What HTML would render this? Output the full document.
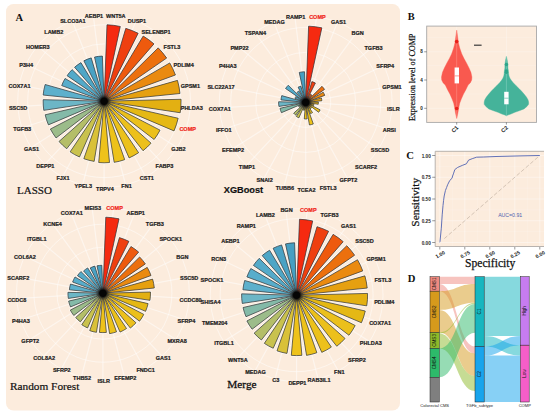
<!DOCTYPE html><html><head><meta charset="utf-8"><style>html,body{margin:0;padding:0;background:#fff;overflow:hidden}svg{display:block}</style></head><body><svg width="550" height="414" viewBox="0 0 550 414"><defs><radialGradient id="cg"><stop offset="0" stop-color="#000" stop-opacity="1"/><stop offset="0.45" stop-color="#000" stop-opacity="0.85"/><stop offset="0.7" stop-color="#111" stop-opacity="0.35"/><stop offset="1" stop-color="#222" stop-opacity="0"/></radialGradient></defs><rect width="550" height="414" fill="#ffffff"/><rect x="6" y="4" width="394" height="406.5" rx="7.5" ry="7.5" fill="#FCECDD"/><circle cx="104.1" cy="101.2" r="19.1" fill="none" stroke="#ffffff" stroke-width="0.9" opacity="0.55"/><circle cx="104.1" cy="101.2" r="38.2" fill="none" stroke="#ffffff" stroke-width="0.9" opacity="0.55"/><circle cx="104.1" cy="101.2" r="57.3" fill="none" stroke="#ffffff" stroke-width="0.9" opacity="0.55"/><circle cx="104.1" cy="101.2" r="76.4" fill="none" stroke="#ffffff" stroke-width="0.9" opacity="0.55"/><circle cx="104.1" cy="101.2" r="86.4" fill="none" stroke="#ffffff" stroke-width="0.9" opacity="0.55"/><line x1="104.1" y1="101.2" x2="114.88" y2="15.88" stroke="#ffffff" stroke-width="1.2" opacity="0.5"/><line x1="104.1" y1="101.2" x2="135.76" y2="21.24" stroke="#ffffff" stroke-width="1.2" opacity="0.5"/><line x1="104.1" y1="101.2" x2="154.65" y2="31.62" stroke="#ffffff" stroke-width="1.2" opacity="0.5"/><line x1="104.1" y1="101.2" x2="170.36" y2="46.38" stroke="#ffffff" stroke-width="1.2" opacity="0.5"/><line x1="104.1" y1="101.2" x2="181.92" y2="64.58" stroke="#ffffff" stroke-width="1.2" opacity="0.5"/><line x1="104.1" y1="101.2" x2="188.58" y2="85.09" stroke="#ffffff" stroke-width="1.2" opacity="0.5"/><line x1="104.1" y1="101.2" x2="189.93" y2="106.60" stroke="#ffffff" stroke-width="1.2" opacity="0.5"/><line x1="104.1" y1="101.2" x2="185.89" y2="127.78" stroke="#ffffff" stroke-width="1.2" opacity="0.5"/><line x1="104.1" y1="101.2" x2="176.71" y2="147.28" stroke="#ffffff" stroke-width="1.2" opacity="0.5"/><line x1="104.1" y1="101.2" x2="162.97" y2="163.89" stroke="#ffffff" stroke-width="1.2" opacity="0.5"/><line x1="104.1" y1="101.2" x2="145.53" y2="176.56" stroke="#ffffff" stroke-width="1.2" opacity="0.5"/><line x1="104.1" y1="101.2" x2="125.49" y2="184.50" stroke="#ffffff" stroke-width="1.2" opacity="0.5"/><line x1="104.1" y1="101.2" x2="104.10" y2="187.20" stroke="#ffffff" stroke-width="1.2" opacity="0.5"/><line x1="104.1" y1="101.2" x2="82.71" y2="184.50" stroke="#ffffff" stroke-width="1.2" opacity="0.5"/><line x1="104.1" y1="101.2" x2="62.67" y2="176.56" stroke="#ffffff" stroke-width="1.2" opacity="0.5"/><line x1="104.1" y1="101.2" x2="45.23" y2="163.89" stroke="#ffffff" stroke-width="1.2" opacity="0.5"/><line x1="104.1" y1="101.2" x2="31.49" y2="147.28" stroke="#ffffff" stroke-width="1.2" opacity="0.5"/><line x1="104.1" y1="101.2" x2="22.31" y2="127.78" stroke="#ffffff" stroke-width="1.2" opacity="0.5"/><line x1="104.1" y1="101.2" x2="18.27" y2="106.60" stroke="#ffffff" stroke-width="1.2" opacity="0.5"/><line x1="104.1" y1="101.2" x2="19.62" y2="85.09" stroke="#ffffff" stroke-width="1.2" opacity="0.5"/><line x1="104.1" y1="101.2" x2="26.28" y2="64.58" stroke="#ffffff" stroke-width="1.2" opacity="0.5"/><line x1="104.1" y1="101.2" x2="37.84" y2="46.38" stroke="#ffffff" stroke-width="1.2" opacity="0.5"/><line x1="104.1" y1="101.2" x2="53.55" y2="31.62" stroke="#ffffff" stroke-width="1.2" opacity="0.5"/><line x1="104.1" y1="101.2" x2="72.44" y2="21.24" stroke="#ffffff" stroke-width="1.2" opacity="0.5"/><line x1="104.1" y1="101.2" x2="93.32" y2="15.88" stroke="#ffffff" stroke-width="1.2" opacity="0.5"/><path d="M104.1,101.2 L106.98,24.75 A76.5,76.5 0 0 1 120.32,26.44 Z" fill="#fff" stroke="#fffaf5" stroke-width="2.2" stroke-linejoin="round"/><path d="M104.1,101.2 L125.76,28.35 A76,76 0 0 1 138.18,33.27 Z" fill="#fff" stroke="#fffaf5" stroke-width="2.2" stroke-linejoin="round"/><path d="M104.1,101.2 L143.20,36.03 A76,76 0 0 1 154.00,43.88 Z" fill="#fff" stroke="#fffaf5" stroke-width="2.2" stroke-linejoin="round"/><path d="M104.1,101.2 L158.18,47.80 A76,76 0 0 1 166.69,58.09 Z" fill="#fff" stroke="#fffaf5" stroke-width="2.2" stroke-linejoin="round"/><path d="M104.1,101.2 L169.76,62.92 A76,76 0 0 1 175.44,75.01 Z" fill="#fff" stroke="#fffaf5" stroke-width="2.2" stroke-linejoin="round"/><path d="M104.1,101.2 L177.50,80.37 A76.3,76.3 0 0 1 180.01,93.54 Z" fill="#fff" stroke="#fffaf5" stroke-width="2.2" stroke-linejoin="round"/><path d="M104.1,101.2 L181.08,99.26 A77,77 0 0 1 180.23,112.77 Z" fill="#fff" stroke="#fffaf5" stroke-width="2.2" stroke-linejoin="round"/><path d="M104.1,101.2 L178.16,118.24 A76,76 0 0 1 174.04,130.94 Z" fill="#fff" stroke="#fffaf5" stroke-width="2.2" stroke-linejoin="round"/><path d="M104.1,101.2 L160.05,130.15 A63,63 0 0 1 154.12,139.50 Z" fill="#fff" stroke="#fffaf5" stroke-width="2.2" stroke-linejoin="round"/><path d="M104.1,101.2 L151.09,143.16 A63,63 0 0 1 143.03,150.74 Z" fill="#fff" stroke="#fffaf5" stroke-width="2.2" stroke-linejoin="round"/><path d="M104.1,101.2 L138.63,152.70 A62,62 0 0 1 129.08,157.94 Z" fill="#fff" stroke="#fffaf5" stroke-width="2.2" stroke-linejoin="round"/><path d="M104.1,101.2 L124.73,159.67 A62,62 0 0 1 114.18,162.37 Z" fill="#fff" stroke="#fffaf5" stroke-width="2.2" stroke-linejoin="round"/><path d="M104.1,101.2 L109.51,162.56 A61.6,61.6 0 0 1 98.69,162.56 Z" fill="#fff" stroke="#fffaf5" stroke-width="2.2" stroke-linejoin="round"/><path d="M104.1,101.2 L94.18,161.39 A61,61 0 0 1 83.80,158.72 Z" fill="#fff" stroke="#fffaf5" stroke-width="2.2" stroke-linejoin="round"/><path d="M104.1,101.2 L79.52,157.03 A61,61 0 0 1 70.13,151.87 Z" fill="#fff" stroke="#fffaf5" stroke-width="2.2" stroke-linejoin="round"/><path d="M104.1,101.2 L66.72,148.77 A60.5,60.5 0 0 1 58.97,141.49 Z" fill="#fff" stroke="#fffaf5" stroke-width="2.2" stroke-linejoin="round"/><path d="M104.1,101.2 L56.06,137.98 A60.5,60.5 0 0 1 50.37,129.00 Z" fill="#fff" stroke="#fffaf5" stroke-width="2.2" stroke-linejoin="round"/><path d="M104.1,101.2 L48.43,124.88 A60.5,60.5 0 0 1 45.14,114.77 Z" fill="#fff" stroke="#fffaf5" stroke-width="2.2" stroke-linejoin="round"/><path d="M104.1,101.2 L43.79,110.36 A61,61 0 0 1 43.12,99.67 Z" fill="#fff" stroke="#fffaf5" stroke-width="2.2" stroke-linejoin="round"/><path d="M104.1,101.2 L43.11,95.05 A61.3,61.3 0 0 1 45.13,84.47 Z" fill="#fff" stroke="#fffaf5" stroke-width="2.2" stroke-linejoin="round"/><path d="M104.1,101.2 L61.67,85.62 A45.2,45.2 0 0 1 65.05,78.44 Z" fill="#fff" stroke="#fffaf5" stroke-width="2.2" stroke-linejoin="round"/><path d="M104.1,101.2 L67.04,75.67 A45,45 0 0 1 72.08,69.58 Z" fill="#fff" stroke="#fffaf5" stroke-width="2.2" stroke-linejoin="round"/><path d="M104.1,101.2 L74.55,67.26 A45,45 0 0 1 80.95,62.61 Z" fill="#fff" stroke="#fffaf5" stroke-width="2.2" stroke-linejoin="round"/><path d="M104.1,101.2 L83.83,60.80 A45.2,45.2 0 0 1 91.22,57.87 Z" fill="#fff" stroke="#fffaf5" stroke-width="2.2" stroke-linejoin="round"/><path d="M104.1,101.2 L94.52,57.03 A45.2,45.2 0 0 1 102.40,56.03 Z" fill="#fff" stroke="#fffaf5" stroke-width="2.2" stroke-linejoin="round"/><path d="M104.1,101.2 L106.98,24.75 A76.5,76.5 0 0 1 120.32,26.44 Z" fill="#f52a10" stroke="#2e2e2e" stroke-width="0.7" stroke-linejoin="round"/><path d="M104.1,101.2 L125.76,28.35 A76,76 0 0 1 138.18,33.27 Z" fill="#ef4010" stroke="#2e2e2e" stroke-width="0.7" stroke-linejoin="round"/><path d="M104.1,101.2 L143.20,36.03 A76,76 0 0 1 154.00,43.88 Z" fill="#ee5a0e" stroke="#2e2e2e" stroke-width="0.7" stroke-linejoin="round"/><path d="M104.1,101.2 L158.18,47.80 A76,76 0 0 1 166.69,58.09 Z" fill="#ec700e" stroke="#2e2e2e" stroke-width="0.7" stroke-linejoin="round"/><path d="M104.1,101.2 L169.76,62.92 A76,76 0 0 1 175.44,75.01 Z" fill="#ea8a10" stroke="#2e2e2e" stroke-width="0.7" stroke-linejoin="round"/><path d="M104.1,101.2 L177.50,80.37 A76.3,76.3 0 0 1 180.01,93.54 Z" fill="#e6a010" stroke="#2e2e2e" stroke-width="0.7" stroke-linejoin="round"/><path d="M104.1,101.2 L181.08,99.26 A77,77 0 0 1 180.23,112.77 Z" fill="#e3b012" stroke="#2e2e2e" stroke-width="0.7" stroke-linejoin="round"/><path d="M104.1,101.2 L178.16,118.24 A76,76 0 0 1 174.04,130.94 Z" fill="#e5b814" stroke="#2e2e2e" stroke-width="0.7" stroke-linejoin="round"/><path d="M104.1,101.2 L160.05,130.15 A63,63 0 0 1 154.12,139.50 Z" fill="#ebc01c" stroke="#2e2e2e" stroke-width="0.7" stroke-linejoin="round"/><path d="M104.1,101.2 L151.09,143.16 A63,63 0 0 1 143.03,150.74 Z" fill="#ecc01c" stroke="#2e2e2e" stroke-width="0.7" stroke-linejoin="round"/><path d="M104.1,101.2 L138.63,152.70 A62,62 0 0 1 129.08,157.94 Z" fill="#ecc11b" stroke="#2e2e2e" stroke-width="0.7" stroke-linejoin="round"/><path d="M104.1,101.2 L124.73,159.67 A62,62 0 0 1 114.18,162.37 Z" fill="#edc21a" stroke="#2e2e2e" stroke-width="0.7" stroke-linejoin="round"/><path d="M104.1,101.2 L109.51,162.56 A61.6,61.6 0 0 1 98.69,162.56 Z" fill="#eec21a" stroke="#2e2e2e" stroke-width="0.7" stroke-linejoin="round"/><path d="M104.1,101.2 L94.18,161.39 A61,61 0 0 1 83.80,158.72 Z" fill="#d9c138" stroke="#2e2e2e" stroke-width="0.7" stroke-linejoin="round"/><path d="M104.1,101.2 L79.52,157.03 A61,61 0 0 1 70.13,151.87 Z" fill="#c9c24e" stroke="#2e2e2e" stroke-width="0.7" stroke-linejoin="round"/><path d="M104.1,101.2 L66.72,148.77 A60.5,60.5 0 0 1 58.97,141.49 Z" fill="#b4be68" stroke="#2e2e2e" stroke-width="0.7" stroke-linejoin="round"/><path d="M104.1,101.2 L56.06,137.98 A60.5,60.5 0 0 1 50.37,129.00 Z" fill="#9cbc8a" stroke="#2e2e2e" stroke-width="0.7" stroke-linejoin="round"/><path d="M104.1,101.2 L48.43,124.88 A60.5,60.5 0 0 1 45.14,114.77 Z" fill="#84baa8" stroke="#2e2e2e" stroke-width="0.7" stroke-linejoin="round"/><path d="M104.1,101.2 L43.79,110.36 A61,61 0 0 1 43.12,99.67 Z" fill="#6cb6c6" stroke="#2e2e2e" stroke-width="0.7" stroke-linejoin="round"/><path d="M104.1,101.2 L43.11,95.05 A61.3,61.3 0 0 1 45.13,84.47 Z" fill="#5db0cc" stroke="#2e2e2e" stroke-width="0.7" stroke-linejoin="round"/><path d="M104.1,101.2 L61.67,85.62 A45.2,45.2 0 0 1 65.05,78.44 Z" fill="#58adcb" stroke="#2e2e2e" stroke-width="0.7" stroke-linejoin="round"/><path d="M104.1,101.2 L67.04,75.67 A45,45 0 0 1 72.08,69.58 Z" fill="#54aac9" stroke="#2e2e2e" stroke-width="0.7" stroke-linejoin="round"/><path d="M104.1,101.2 L74.55,67.26 A45,45 0 0 1 80.95,62.61 Z" fill="#4fa6c6" stroke="#2e2e2e" stroke-width="0.7" stroke-linejoin="round"/><path d="M104.1,101.2 L83.83,60.80 A45.2,45.2 0 0 1 91.22,57.87 Z" fill="#4aa2c4" stroke="#2e2e2e" stroke-width="0.7" stroke-linejoin="round"/><path d="M104.1,101.2 L94.52,57.03 A45.2,45.2 0 0 1 102.40,56.03 Z" fill="#469fc2" stroke="#2e2e2e" stroke-width="0.7" stroke-linejoin="round"/><circle cx="104.1" cy="101.2" r="7.5" fill="url(#cg)"/><circle cx="104.1" cy="101.2" r="3.2" fill="#050505"/><text transform="translate(115.80,17.79) scale(0.92,1)" text-anchor="middle" font-size="6.0" fill="#1c1c1c" stroke="#1c1c1c" stroke-width="0.22" font-family="Liberation Sans, sans-serif" font-weight="bold">WNT5A</text><text transform="translate(136.93,23.21) scale(0.92,1)" text-anchor="middle" font-size="6.0" fill="#1c1c1c" stroke="#1c1c1c" stroke-width="0.22" font-family="Liberation Sans, sans-serif" font-weight="bold">DUSP1</text><text transform="translate(156.04,33.72) scale(0.92,1)" text-anchor="middle" font-size="6.0" fill="#1c1c1c" stroke="#1c1c1c" stroke-width="0.22" font-family="Liberation Sans, sans-serif" font-weight="bold">SELENBP1</text><text transform="translate(171.93,48.64) scale(0.92,1)" text-anchor="middle" font-size="6.0" fill="#1c1c1c" stroke="#1c1c1c" stroke-width="0.22" font-family="Liberation Sans, sans-serif" font-weight="bold">FSTL3</text><text transform="translate(183.62,67.06) scale(0.92,1)" text-anchor="middle" font-size="6.0" fill="#1c1c1c" stroke="#1c1c1c" stroke-width="0.22" font-family="Liberation Sans, sans-serif" font-weight="bold">PDLIM4</text><text transform="translate(190.36,87.80) scale(0.92,1)" text-anchor="middle" font-size="6.0" fill="#1c1c1c" stroke="#1c1c1c" stroke-width="0.22" font-family="Liberation Sans, sans-serif" font-weight="bold">GPSM1</text><text transform="translate(191.73,109.56) scale(0.92,1)" text-anchor="middle" font-size="6.0" fill="#1c1c1c" stroke="#1c1c1c" stroke-width="0.22" font-family="Liberation Sans, sans-serif" font-weight="bold">PHLDA3</text><text transform="translate(187.64,130.98) scale(0.92,1)" text-anchor="middle" font-size="6.0" fill="#F02418" stroke="#F02418" stroke-width="0.22" font-family="Liberation Sans, sans-serif" font-weight="bold">COMP</text><text transform="translate(178.36,150.72) scale(0.92,1)" text-anchor="middle" font-size="6.0" fill="#1c1c1c" stroke="#1c1c1c" stroke-width="0.22" font-family="Liberation Sans, sans-serif" font-weight="bold">GJB2</text><text transform="translate(164.46,167.52) scale(0.92,1)" text-anchor="middle" font-size="6.0" fill="#1c1c1c" stroke="#1c1c1c" stroke-width="0.22" font-family="Liberation Sans, sans-serif" font-weight="bold">FABP3</text><text transform="translate(146.81,180.34) scale(0.92,1)" text-anchor="middle" font-size="6.0" fill="#1c1c1c" stroke="#1c1c1c" stroke-width="0.22" font-family="Liberation Sans, sans-serif" font-weight="bold">CST1</text><text transform="translate(126.54,188.37) scale(0.92,1)" text-anchor="middle" font-size="6.0" fill="#1c1c1c" stroke="#1c1c1c" stroke-width="0.22" font-family="Liberation Sans, sans-serif" font-weight="bold">FN1</text><text transform="translate(104.90,191.10) scale(0.92,1)" text-anchor="middle" font-size="6.0" fill="#1c1c1c" stroke="#1c1c1c" stroke-width="0.22" font-family="Liberation Sans, sans-serif" font-weight="bold">TRPV4</text><text transform="translate(83.26,188.37) scale(0.92,1)" text-anchor="middle" font-size="6.0" fill="#1c1c1c" stroke="#1c1c1c" stroke-width="0.22" font-family="Liberation Sans, sans-serif" font-weight="bold">YPEL3</text><text transform="translate(62.99,180.34) scale(0.92,1)" text-anchor="middle" font-size="6.0" fill="#1c1c1c" stroke="#1c1c1c" stroke-width="0.22" font-family="Liberation Sans, sans-serif" font-weight="bold">FJX1</text><text transform="translate(45.34,167.52) scale(0.92,1)" text-anchor="middle" font-size="6.0" fill="#1c1c1c" stroke="#1c1c1c" stroke-width="0.22" font-family="Liberation Sans, sans-serif" font-weight="bold">DEPP1</text><text transform="translate(31.44,150.72) scale(0.92,1)" text-anchor="middle" font-size="6.0" fill="#1c1c1c" stroke="#1c1c1c" stroke-width="0.22" font-family="Liberation Sans, sans-serif" font-weight="bold">GAS1</text><text transform="translate(22.16,130.98) scale(0.92,1)" text-anchor="middle" font-size="6.0" fill="#1c1c1c" stroke="#1c1c1c" stroke-width="0.22" font-family="Liberation Sans, sans-serif" font-weight="bold">TGFB3</text><text transform="translate(18.07,109.56) scale(0.92,1)" text-anchor="middle" font-size="6.0" fill="#1c1c1c" stroke="#1c1c1c" stroke-width="0.22" font-family="Liberation Sans, sans-serif" font-weight="bold">SSC5D</text><text transform="translate(19.44,87.80) scale(0.92,1)" text-anchor="middle" font-size="6.0" fill="#1c1c1c" stroke="#1c1c1c" stroke-width="0.22" font-family="Liberation Sans, sans-serif" font-weight="bold">COX7A1</text><text transform="translate(26.18,67.06) scale(0.92,1)" text-anchor="middle" font-size="6.0" fill="#1c1c1c" stroke="#1c1c1c" stroke-width="0.22" font-family="Liberation Sans, sans-serif" font-weight="bold">P3H4</text><text transform="translate(37.87,48.64) scale(0.92,1)" text-anchor="middle" font-size="6.0" fill="#1c1c1c" stroke="#1c1c1c" stroke-width="0.22" font-family="Liberation Sans, sans-serif" font-weight="bold">HOMER3</text><text transform="translate(53.76,33.72) scale(0.92,1)" text-anchor="middle" font-size="6.0" fill="#1c1c1c" stroke="#1c1c1c" stroke-width="0.22" font-family="Liberation Sans, sans-serif" font-weight="bold">LAMB2</text><text transform="translate(72.87,23.21) scale(0.92,1)" text-anchor="middle" font-size="6.0" fill="#1c1c1c" stroke="#1c1c1c" stroke-width="0.22" font-family="Liberation Sans, sans-serif" font-weight="bold">SLCO3A1</text><text transform="translate(94.00,17.79) scale(0.92,1)" text-anchor="middle" font-size="6.0" fill="#1c1c1c" stroke="#1c1c1c" stroke-width="0.22" font-family="Liberation Sans, sans-serif" font-weight="bold">AEBP1</text><circle cx="305.7" cy="102.4" r="25" fill="none" stroke="#ffffff" stroke-width="0.9" opacity="0.55"/><circle cx="305.7" cy="102.4" r="50" fill="none" stroke="#ffffff" stroke-width="0.9" opacity="0.55"/><circle cx="305.7" cy="102.4" r="75" fill="none" stroke="#ffffff" stroke-width="0.9" opacity="0.55"/><circle cx="305.7" cy="102.4" r="86.4" fill="none" stroke="#ffffff" stroke-width="0.9" opacity="0.55"/><line x1="305.7" y1="102.4" x2="316.48" y2="17.08" stroke="#ffffff" stroke-width="1.2" opacity="0.5"/><line x1="305.7" y1="102.4" x2="337.36" y2="22.44" stroke="#ffffff" stroke-width="1.2" opacity="0.5"/><line x1="305.7" y1="102.4" x2="356.25" y2="32.82" stroke="#ffffff" stroke-width="1.2" opacity="0.5"/><line x1="305.7" y1="102.4" x2="371.96" y2="47.58" stroke="#ffffff" stroke-width="1.2" opacity="0.5"/><line x1="305.7" y1="102.4" x2="383.52" y2="65.78" stroke="#ffffff" stroke-width="1.2" opacity="0.5"/><line x1="305.7" y1="102.4" x2="390.18" y2="86.29" stroke="#ffffff" stroke-width="1.2" opacity="0.5"/><line x1="305.7" y1="102.4" x2="391.53" y2="107.80" stroke="#ffffff" stroke-width="1.2" opacity="0.5"/><line x1="305.7" y1="102.4" x2="387.49" y2="128.98" stroke="#ffffff" stroke-width="1.2" opacity="0.5"/><line x1="305.7" y1="102.4" x2="378.31" y2="148.48" stroke="#ffffff" stroke-width="1.2" opacity="0.5"/><line x1="305.7" y1="102.4" x2="364.57" y2="165.09" stroke="#ffffff" stroke-width="1.2" opacity="0.5"/><line x1="305.7" y1="102.4" x2="347.13" y2="177.76" stroke="#ffffff" stroke-width="1.2" opacity="0.5"/><line x1="305.7" y1="102.4" x2="327.09" y2="185.70" stroke="#ffffff" stroke-width="1.2" opacity="0.5"/><line x1="305.7" y1="102.4" x2="305.70" y2="188.40" stroke="#ffffff" stroke-width="1.2" opacity="0.5"/><line x1="305.7" y1="102.4" x2="284.31" y2="185.70" stroke="#ffffff" stroke-width="1.2" opacity="0.5"/><line x1="305.7" y1="102.4" x2="264.27" y2="177.76" stroke="#ffffff" stroke-width="1.2" opacity="0.5"/><line x1="305.7" y1="102.4" x2="246.83" y2="165.09" stroke="#ffffff" stroke-width="1.2" opacity="0.5"/><line x1="305.7" y1="102.4" x2="233.09" y2="148.48" stroke="#ffffff" stroke-width="1.2" opacity="0.5"/><line x1="305.7" y1="102.4" x2="223.91" y2="128.98" stroke="#ffffff" stroke-width="1.2" opacity="0.5"/><line x1="305.7" y1="102.4" x2="219.87" y2="107.80" stroke="#ffffff" stroke-width="1.2" opacity="0.5"/><line x1="305.7" y1="102.4" x2="221.22" y2="86.29" stroke="#ffffff" stroke-width="1.2" opacity="0.5"/><line x1="305.7" y1="102.4" x2="227.88" y2="65.78" stroke="#ffffff" stroke-width="1.2" opacity="0.5"/><line x1="305.7" y1="102.4" x2="239.44" y2="47.58" stroke="#ffffff" stroke-width="1.2" opacity="0.5"/><line x1="305.7" y1="102.4" x2="255.15" y2="32.82" stroke="#ffffff" stroke-width="1.2" opacity="0.5"/><line x1="305.7" y1="102.4" x2="274.04" y2="22.44" stroke="#ffffff" stroke-width="1.2" opacity="0.5"/><line x1="305.7" y1="102.4" x2="294.92" y2="17.08" stroke="#ffffff" stroke-width="1.2" opacity="0.5"/><path d="M305.7,102.4 L308.58,26.15 A76.3,76.3 0 0 1 321.88,27.83 Z" fill="#fff" stroke="#fffaf5" stroke-width="2.2" stroke-linejoin="round"/><path d="M305.7,102.4 L311.88,81.60 A21.7,21.7 0 0 1 315.43,83.00 Z" fill="#fff" stroke="#fffaf5" stroke-width="2.2" stroke-linejoin="round"/><path d="M305.7,102.4 L310.59,94.25 A9.5,9.5 0 0 1 311.94,95.23 Z" fill="#fff" stroke="#fffaf5" stroke-width="2.2" stroke-linejoin="round"/><path d="M305.7,102.4 L321.99,86.31 A22.9,22.9 0 0 1 324.56,89.41 Z" fill="#fff" stroke="#fffaf5" stroke-width="2.2" stroke-linejoin="round"/><path d="M305.7,102.4 L323.24,92.18 A20.3,20.3 0 0 1 324.76,95.40 Z" fill="#fff" stroke="#fffaf5" stroke-width="2.2" stroke-linejoin="round"/><path d="M305.7,102.4 L321.38,97.95 A16.3,16.3 0 0 1 321.92,100.76 Z" fill="#fff" stroke="#fffaf5" stroke-width="2.2" stroke-linejoin="round"/><path d="M305.7,102.4 L318.40,102.08 A12.7,12.7 0 0 1 318.26,104.31 Z" fill="#fff" stroke="#fffaf5" stroke-width="2.2" stroke-linejoin="round"/><path d="M305.7,102.4 L313.98,104.31 A8.5,8.5 0 0 1 313.52,105.73 Z" fill="#fff" stroke="#fffaf5" stroke-width="2.2" stroke-linejoin="round"/><path d="M305.7,102.4 L320.18,109.89 A16.3,16.3 0 0 1 318.64,112.31 Z" fill="#fff" stroke="#fffaf5" stroke-width="2.2" stroke-linejoin="round"/><path d="M305.7,102.4 L311.67,107.73 A8,8 0 0 1 310.64,108.69 Z" fill="#fff" stroke="#fffaf5" stroke-width="2.2" stroke-linejoin="round"/><path d="M305.7,102.4 L312.55,112.62 A12.3,12.3 0 0 1 310.66,113.66 Z" fill="#fff" stroke="#fffaf5" stroke-width="2.2" stroke-linejoin="round"/><path d="M305.7,102.4 L313.32,123.99 A22.9,22.9 0 0 1 309.42,125.00 Z" fill="#fff" stroke="#fffaf5" stroke-width="2.2" stroke-linejoin="round"/><path d="M305.7,102.4 L307.16,118.94 A16.6,16.6 0 0 1 304.24,118.94 Z" fill="#fff" stroke="#fffaf5" stroke-width="2.2" stroke-linejoin="round"/><path d="M305.7,102.4 L304.40,110.29 A8,8 0 0 1 303.04,109.94 Z" fill="#fff" stroke="#fffaf5" stroke-width="2.2" stroke-linejoin="round"/><path d="M305.7,102.4 L298.89,117.87 A16.9,16.9 0 0 1 296.29,116.44 Z" fill="#fff" stroke="#fffaf5" stroke-width="2.2" stroke-linejoin="round"/><path d="M305.7,102.4 L295.69,115.14 A16.2,16.2 0 0 1 293.62,113.19 Z" fill="#fff" stroke="#fffaf5" stroke-width="2.2" stroke-linejoin="round"/><path d="M305.7,102.4 L299.35,107.26 A8,8 0 0 1 298.59,106.08 Z" fill="#fff" stroke="#fffaf5" stroke-width="2.2" stroke-linejoin="round"/><path d="M305.7,102.4 L281.41,112.73 A26.4,26.4 0 0 1 279.97,108.32 Z" fill="#fff" stroke="#fffaf5" stroke-width="2.2" stroke-linejoin="round"/><path d="M305.7,102.4 L278.91,106.47 A27.1,27.1 0 0 1 278.61,101.72 Z" fill="#fff" stroke="#fffaf5" stroke-width="2.2" stroke-linejoin="round"/><path d="M305.7,102.4 L280.93,99.90 A24.9,24.9 0 0 1 281.75,95.60 Z" fill="#fff" stroke="#fffaf5" stroke-width="2.2" stroke-linejoin="round"/><path d="M305.7,102.4 L294.90,98.44 A11.5,11.5 0 0 1 295.76,96.61 Z" fill="#fff" stroke="#fffaf5" stroke-width="2.2" stroke-linejoin="round"/><path d="M305.7,102.4 L285.52,88.50 A24.5,24.5 0 0 1 288.27,85.19 Z" fill="#fff" stroke="#fffaf5" stroke-width="2.2" stroke-linejoin="round"/><path d="M305.7,102.4 L296.97,92.37 A13.3,13.3 0 0 1 298.86,90.99 Z" fill="#fff" stroke="#fffaf5" stroke-width="2.2" stroke-linejoin="round"/><path d="M305.7,102.4 L298.08,87.20 A17,17 0 0 1 300.85,86.11 Z" fill="#fff" stroke="#fffaf5" stroke-width="2.2" stroke-linejoin="round"/><path d="M305.7,102.4 L299.19,72.40 A30.7,30.7 0 0 1 304.54,71.72 Z" fill="#fff" stroke="#fffaf5" stroke-width="2.2" stroke-linejoin="round"/><path d="M305.7,102.4 L308.58,26.15 A76.3,76.3 0 0 1 321.88,27.83 Z" fill="#f52a10" stroke="#2e2e2e" stroke-width="0.7" stroke-linejoin="round"/><path d="M305.7,102.4 L311.88,81.60 A21.7,21.7 0 0 1 315.43,83.00 Z" fill="#ef4010" stroke="#2e2e2e" stroke-width="0.7" stroke-linejoin="round"/><path d="M305.7,102.4 L310.59,94.25 A9.5,9.5 0 0 1 311.94,95.23 Z" fill="#ee5a0e" stroke="#2e2e2e" stroke-width="0.7" stroke-linejoin="round"/><path d="M305.7,102.4 L321.99,86.31 A22.9,22.9 0 0 1 324.56,89.41 Z" fill="#ec700e" stroke="#2e2e2e" stroke-width="0.7" stroke-linejoin="round"/><path d="M305.7,102.4 L323.24,92.18 A20.3,20.3 0 0 1 324.76,95.40 Z" fill="#ea8a10" stroke="#2e2e2e" stroke-width="0.7" stroke-linejoin="round"/><path d="M305.7,102.4 L321.38,97.95 A16.3,16.3 0 0 1 321.92,100.76 Z" fill="#e6a010" stroke="#2e2e2e" stroke-width="0.7" stroke-linejoin="round"/><path d="M305.7,102.4 L318.40,102.08 A12.7,12.7 0 0 1 318.26,104.31 Z" fill="#e3b012" stroke="#2e2e2e" stroke-width="0.7" stroke-linejoin="round"/><path d="M305.7,102.4 L313.98,104.31 A8.5,8.5 0 0 1 313.52,105.73 Z" fill="#e5b814" stroke="#2e2e2e" stroke-width="0.7" stroke-linejoin="round"/><path d="M305.7,102.4 L320.18,109.89 A16.3,16.3 0 0 1 318.64,112.31 Z" fill="#ebc01c" stroke="#2e2e2e" stroke-width="0.7" stroke-linejoin="round"/><path d="M305.7,102.4 L311.67,107.73 A8,8 0 0 1 310.64,108.69 Z" fill="#ecc01c" stroke="#2e2e2e" stroke-width="0.7" stroke-linejoin="round"/><path d="M305.7,102.4 L312.55,112.62 A12.3,12.3 0 0 1 310.66,113.66 Z" fill="#ecc11b" stroke="#2e2e2e" stroke-width="0.7" stroke-linejoin="round"/><path d="M305.7,102.4 L313.32,123.99 A22.9,22.9 0 0 1 309.42,125.00 Z" fill="#edc21a" stroke="#2e2e2e" stroke-width="0.7" stroke-linejoin="round"/><path d="M305.7,102.4 L307.16,118.94 A16.6,16.6 0 0 1 304.24,118.94 Z" fill="#eec21a" stroke="#2e2e2e" stroke-width="0.7" stroke-linejoin="round"/><path d="M305.7,102.4 L304.40,110.29 A8,8 0 0 1 303.04,109.94 Z" fill="#d9c138" stroke="#2e2e2e" stroke-width="0.7" stroke-linejoin="round"/><path d="M305.7,102.4 L298.89,117.87 A16.9,16.9 0 0 1 296.29,116.44 Z" fill="#c9c24e" stroke="#2e2e2e" stroke-width="0.7" stroke-linejoin="round"/><path d="M305.7,102.4 L295.69,115.14 A16.2,16.2 0 0 1 293.62,113.19 Z" fill="#b4be68" stroke="#2e2e2e" stroke-width="0.7" stroke-linejoin="round"/><path d="M305.7,102.4 L299.35,107.26 A8,8 0 0 1 298.59,106.08 Z" fill="#9cbc8a" stroke="#2e2e2e" stroke-width="0.7" stroke-linejoin="round"/><path d="M305.7,102.4 L281.41,112.73 A26.4,26.4 0 0 1 279.97,108.32 Z" fill="#84baa8" stroke="#2e2e2e" stroke-width="0.7" stroke-linejoin="round"/><path d="M305.7,102.4 L278.91,106.47 A27.1,27.1 0 0 1 278.61,101.72 Z" fill="#6cb6c6" stroke="#2e2e2e" stroke-width="0.7" stroke-linejoin="round"/><path d="M305.7,102.4 L280.93,99.90 A24.9,24.9 0 0 1 281.75,95.60 Z" fill="#5db0cc" stroke="#2e2e2e" stroke-width="0.7" stroke-linejoin="round"/><path d="M305.7,102.4 L294.90,98.44 A11.5,11.5 0 0 1 295.76,96.61 Z" fill="#58adcb" stroke="#2e2e2e" stroke-width="0.7" stroke-linejoin="round"/><path d="M305.7,102.4 L285.52,88.50 A24.5,24.5 0 0 1 288.27,85.19 Z" fill="#54aac9" stroke="#2e2e2e" stroke-width="0.7" stroke-linejoin="round"/><path d="M305.7,102.4 L296.97,92.37 A13.3,13.3 0 0 1 298.86,90.99 Z" fill="#4fa6c6" stroke="#2e2e2e" stroke-width="0.7" stroke-linejoin="round"/><path d="M305.7,102.4 L298.08,87.20 A17,17 0 0 1 300.85,86.11 Z" fill="#4aa2c4" stroke="#2e2e2e" stroke-width="0.7" stroke-linejoin="round"/><path d="M305.7,102.4 L299.19,72.40 A30.7,30.7 0 0 1 304.54,71.72 Z" fill="#469fc2" stroke="#2e2e2e" stroke-width="0.7" stroke-linejoin="round"/><circle cx="305.7" cy="102.4" r="7.5" fill="url(#cg)"/><circle cx="305.7" cy="102.4" r="3.2" fill="#050505"/><text transform="translate(317.40,18.99) scale(0.92,1)" text-anchor="middle" font-size="6.0" fill="#F02418" stroke="#F02418" stroke-width="0.22" font-family="Liberation Sans, sans-serif" font-weight="bold">COMP</text><text transform="translate(338.53,24.41) scale(0.92,1)" text-anchor="middle" font-size="6.0" fill="#1c1c1c" stroke="#1c1c1c" stroke-width="0.22" font-family="Liberation Sans, sans-serif" font-weight="bold">GAS1</text><text transform="translate(357.64,34.92) scale(0.92,1)" text-anchor="middle" font-size="6.0" fill="#1c1c1c" stroke="#1c1c1c" stroke-width="0.22" font-family="Liberation Sans, sans-serif" font-weight="bold">BGN</text><text transform="translate(373.53,49.84) scale(0.92,1)" text-anchor="middle" font-size="6.0" fill="#1c1c1c" stroke="#1c1c1c" stroke-width="0.22" font-family="Liberation Sans, sans-serif" font-weight="bold">TGFB3</text><text transform="translate(385.22,68.26) scale(0.92,1)" text-anchor="middle" font-size="6.0" fill="#1c1c1c" stroke="#1c1c1c" stroke-width="0.22" font-family="Liberation Sans, sans-serif" font-weight="bold">SFRP4</text><text transform="translate(391.96,89.00) scale(0.92,1)" text-anchor="middle" font-size="6.0" fill="#1c1c1c" stroke="#1c1c1c" stroke-width="0.22" font-family="Liberation Sans, sans-serif" font-weight="bold">GPSM1</text><text transform="translate(393.33,110.76) scale(0.92,1)" text-anchor="middle" font-size="6.0" fill="#1c1c1c" stroke="#1c1c1c" stroke-width="0.22" font-family="Liberation Sans, sans-serif" font-weight="bold">ISLR</text><text transform="translate(389.24,132.18) scale(0.92,1)" text-anchor="middle" font-size="6.0" fill="#1c1c1c" stroke="#1c1c1c" stroke-width="0.22" font-family="Liberation Sans, sans-serif" font-weight="bold">ARSI</text><text transform="translate(379.96,151.92) scale(0.92,1)" text-anchor="middle" font-size="6.0" fill="#1c1c1c" stroke="#1c1c1c" stroke-width="0.22" font-family="Liberation Sans, sans-serif" font-weight="bold">SSC5D</text><text transform="translate(366.06,168.72) scale(0.92,1)" text-anchor="middle" font-size="6.0" fill="#1c1c1c" stroke="#1c1c1c" stroke-width="0.22" font-family="Liberation Sans, sans-serif" font-weight="bold">SCARF2</text><text transform="translate(348.41,181.54) scale(0.92,1)" text-anchor="middle" font-size="6.0" fill="#1c1c1c" stroke="#1c1c1c" stroke-width="0.22" font-family="Liberation Sans, sans-serif" font-weight="bold">GFPT2</text><text transform="translate(328.14,189.57) scale(0.92,1)" text-anchor="middle" font-size="6.0" fill="#1c1c1c" stroke="#1c1c1c" stroke-width="0.22" font-family="Liberation Sans, sans-serif" font-weight="bold">FSTL3</text><text transform="translate(306.50,192.30) scale(0.92,1)" text-anchor="middle" font-size="6.0" fill="#1c1c1c" stroke="#1c1c1c" stroke-width="0.22" font-family="Liberation Sans, sans-serif" font-weight="bold">TCEA2</text><text transform="translate(284.86,189.57) scale(0.92,1)" text-anchor="middle" font-size="6.0" fill="#1c1c1c" stroke="#1c1c1c" stroke-width="0.22" font-family="Liberation Sans, sans-serif" font-weight="bold">TUBB6</text><text transform="translate(264.59,181.54) scale(0.92,1)" text-anchor="middle" font-size="6.0" fill="#1c1c1c" stroke="#1c1c1c" stroke-width="0.22" font-family="Liberation Sans, sans-serif" font-weight="bold">SNAI2</text><text transform="translate(246.94,168.72) scale(0.92,1)" text-anchor="middle" font-size="6.0" fill="#1c1c1c" stroke="#1c1c1c" stroke-width="0.22" font-family="Liberation Sans, sans-serif" font-weight="bold">TIMP1</text><text transform="translate(233.04,151.92) scale(0.92,1)" text-anchor="middle" font-size="6.0" fill="#1c1c1c" stroke="#1c1c1c" stroke-width="0.22" font-family="Liberation Sans, sans-serif" font-weight="bold">EFEMP2</text><text transform="translate(223.76,132.18) scale(0.92,1)" text-anchor="middle" font-size="6.0" fill="#1c1c1c" stroke="#1c1c1c" stroke-width="0.22" font-family="Liberation Sans, sans-serif" font-weight="bold">IFFO1</text><text transform="translate(219.67,110.76) scale(0.92,1)" text-anchor="middle" font-size="6.0" fill="#1c1c1c" stroke="#1c1c1c" stroke-width="0.22" font-family="Liberation Sans, sans-serif" font-weight="bold">COX7A1</text><text transform="translate(221.04,89.00) scale(0.92,1)" text-anchor="middle" font-size="6.0" fill="#1c1c1c" stroke="#1c1c1c" stroke-width="0.22" font-family="Liberation Sans, sans-serif" font-weight="bold">SLC22A17</text><text transform="translate(227.78,68.26) scale(0.92,1)" text-anchor="middle" font-size="6.0" fill="#1c1c1c" stroke="#1c1c1c" stroke-width="0.22" font-family="Liberation Sans, sans-serif" font-weight="bold">P4HA3</text><text transform="translate(239.47,49.84) scale(0.92,1)" text-anchor="middle" font-size="6.0" fill="#1c1c1c" stroke="#1c1c1c" stroke-width="0.22" font-family="Liberation Sans, sans-serif" font-weight="bold">PMP22</text><text transform="translate(255.36,34.92) scale(0.92,1)" text-anchor="middle" font-size="6.0" fill="#1c1c1c" stroke="#1c1c1c" stroke-width="0.22" font-family="Liberation Sans, sans-serif" font-weight="bold">TSPAN4</text><text transform="translate(274.47,24.41) scale(0.92,1)" text-anchor="middle" font-size="6.0" fill="#1c1c1c" stroke="#1c1c1c" stroke-width="0.22" font-family="Liberation Sans, sans-serif" font-weight="bold">MEDAG</text><text transform="translate(295.60,18.99) scale(0.92,1)" text-anchor="middle" font-size="6.0" fill="#1c1c1c" stroke="#1c1c1c" stroke-width="0.22" font-family="Liberation Sans, sans-serif" font-weight="bold">RAMP1</text><circle cx="102.9" cy="293.2" r="23" fill="none" stroke="#ffffff" stroke-width="0.9" opacity="0.55"/><circle cx="102.9" cy="293.2" r="46" fill="none" stroke="#ffffff" stroke-width="0.9" opacity="0.55"/><circle cx="102.9" cy="293.2" r="69" fill="none" stroke="#ffffff" stroke-width="0.9" opacity="0.55"/><circle cx="102.9" cy="293.2" r="86.4" fill="none" stroke="#ffffff" stroke-width="0.9" opacity="0.55"/><line x1="102.9" y1="293.2" x2="113.68" y2="207.88" stroke="#ffffff" stroke-width="1.2" opacity="0.5"/><line x1="102.9" y1="293.2" x2="134.56" y2="213.24" stroke="#ffffff" stroke-width="1.2" opacity="0.5"/><line x1="102.9" y1="293.2" x2="153.45" y2="223.62" stroke="#ffffff" stroke-width="1.2" opacity="0.5"/><line x1="102.9" y1="293.2" x2="169.16" y2="238.38" stroke="#ffffff" stroke-width="1.2" opacity="0.5"/><line x1="102.9" y1="293.2" x2="180.72" y2="256.58" stroke="#ffffff" stroke-width="1.2" opacity="0.5"/><line x1="102.9" y1="293.2" x2="187.38" y2="277.09" stroke="#ffffff" stroke-width="1.2" opacity="0.5"/><line x1="102.9" y1="293.2" x2="188.73" y2="298.60" stroke="#ffffff" stroke-width="1.2" opacity="0.5"/><line x1="102.9" y1="293.2" x2="184.69" y2="319.78" stroke="#ffffff" stroke-width="1.2" opacity="0.5"/><line x1="102.9" y1="293.2" x2="175.51" y2="339.28" stroke="#ffffff" stroke-width="1.2" opacity="0.5"/><line x1="102.9" y1="293.2" x2="161.77" y2="355.89" stroke="#ffffff" stroke-width="1.2" opacity="0.5"/><line x1="102.9" y1="293.2" x2="144.33" y2="368.56" stroke="#ffffff" stroke-width="1.2" opacity="0.5"/><line x1="102.9" y1="293.2" x2="124.29" y2="376.50" stroke="#ffffff" stroke-width="1.2" opacity="0.5"/><line x1="102.9" y1="293.2" x2="102.90" y2="379.20" stroke="#ffffff" stroke-width="1.2" opacity="0.5"/><line x1="102.9" y1="293.2" x2="81.51" y2="376.50" stroke="#ffffff" stroke-width="1.2" opacity="0.5"/><line x1="102.9" y1="293.2" x2="61.47" y2="368.56" stroke="#ffffff" stroke-width="1.2" opacity="0.5"/><line x1="102.9" y1="293.2" x2="44.03" y2="355.89" stroke="#ffffff" stroke-width="1.2" opacity="0.5"/><line x1="102.9" y1="293.2" x2="30.29" y2="339.28" stroke="#ffffff" stroke-width="1.2" opacity="0.5"/><line x1="102.9" y1="293.2" x2="21.11" y2="319.78" stroke="#ffffff" stroke-width="1.2" opacity="0.5"/><line x1="102.9" y1="293.2" x2="17.07" y2="298.60" stroke="#ffffff" stroke-width="1.2" opacity="0.5"/><line x1="102.9" y1="293.2" x2="18.42" y2="277.09" stroke="#ffffff" stroke-width="1.2" opacity="0.5"/><line x1="102.9" y1="293.2" x2="25.08" y2="256.58" stroke="#ffffff" stroke-width="1.2" opacity="0.5"/><line x1="102.9" y1="293.2" x2="36.64" y2="238.38" stroke="#ffffff" stroke-width="1.2" opacity="0.5"/><line x1="102.9" y1="293.2" x2="52.35" y2="223.62" stroke="#ffffff" stroke-width="1.2" opacity="0.5"/><line x1="102.9" y1="293.2" x2="71.24" y2="213.24" stroke="#ffffff" stroke-width="1.2" opacity="0.5"/><line x1="102.9" y1="293.2" x2="92.12" y2="207.88" stroke="#ffffff" stroke-width="1.2" opacity="0.5"/><path d="M102.9,293.2 L105.77,217.15 A76.1,76.1 0 0 1 119.03,218.83 Z" fill="#fff" stroke="#fffaf5" stroke-width="2.2" stroke-linejoin="round"/><path d="M102.9,293.2 L119.43,237.61 A58,58 0 0 1 128.91,241.36 Z" fill="#fff" stroke="#fffaf5" stroke-width="2.2" stroke-linejoin="round"/><path d="M102.9,293.2 L130.94,246.46 A54.5,54.5 0 0 1 138.68,252.09 Z" fill="#fff" stroke="#fffaf5" stroke-width="2.2" stroke-linejoin="round"/><path d="M102.9,293.2 L139.62,256.94 A51.6,51.6 0 0 1 145.39,263.93 Z" fill="#fff" stroke="#fffaf5" stroke-width="2.2" stroke-linejoin="round"/><path d="M102.9,293.2 L147.22,267.36 A51.3,51.3 0 0 1 151.06,275.52 Z" fill="#fff" stroke="#fffaf5" stroke-width="2.2" stroke-linejoin="round"/><path d="M102.9,293.2 L152.64,279.09 A51.7,51.7 0 0 1 154.34,288.01 Z" fill="#fff" stroke="#fffaf5" stroke-width="2.2" stroke-linejoin="round"/><path d="M102.9,293.2 L150.48,292.00 A47.6,47.6 0 0 1 149.96,300.35 Z" fill="#fff" stroke="#fffaf5" stroke-width="2.2" stroke-linejoin="round"/><path d="M102.9,293.2 L148.12,303.61 A46.4,46.4 0 0 1 145.60,311.36 Z" fill="#fff" stroke="#fffaf5" stroke-width="2.2" stroke-linejoin="round"/><path d="M102.9,293.2 L143.84,314.39 A46.1,46.1 0 0 1 139.50,321.23 Z" fill="#fff" stroke="#fffaf5" stroke-width="2.2" stroke-linejoin="round"/><path d="M102.9,293.2 L136.02,322.77 A44.4,44.4 0 0 1 130.33,328.11 Z" fill="#fff" stroke="#fffaf5" stroke-width="2.2" stroke-linejoin="round"/><path d="M102.9,293.2 L126.57,328.50 A42.5,42.5 0 0 1 120.02,332.10 Z" fill="#fff" stroke="#fffaf5" stroke-width="2.2" stroke-linejoin="round"/><path d="M102.9,293.2 L116.55,331.86 A41,41 0 0 1 109.57,333.65 Z" fill="#fff" stroke="#fffaf5" stroke-width="2.2" stroke-linejoin="round"/><path d="M102.9,293.2 L106.36,332.45 A39.4,39.4 0 0 1 99.44,332.45 Z" fill="#fff" stroke="#fffaf5" stroke-width="2.2" stroke-linejoin="round"/><path d="M102.9,293.2 L96.44,332.37 A39.7,39.7 0 0 1 89.69,330.64 Z" fill="#fff" stroke="#fffaf5" stroke-width="2.2" stroke-linejoin="round"/><path d="M102.9,293.2 L87.59,327.98 A38,38 0 0 1 81.74,324.76 Z" fill="#fff" stroke="#fffaf5" stroke-width="2.2" stroke-linejoin="round"/><path d="M102.9,293.2 L80.35,321.90 A36.5,36.5 0 0 1 75.67,317.51 Z" fill="#fff" stroke="#fffaf5" stroke-width="2.2" stroke-linejoin="round"/><path d="M102.9,293.2 L73.76,315.51 A36.7,36.7 0 0 1 70.31,310.07 Z" fill="#fff" stroke="#fffaf5" stroke-width="2.2" stroke-linejoin="round"/><path d="M102.9,293.2 L70.51,306.98 A35.2,35.2 0 0 1 68.60,301.09 Z" fill="#fff" stroke="#fffaf5" stroke-width="2.2" stroke-linejoin="round"/><path d="M102.9,293.2 L68.30,298.46 A35,35 0 0 1 67.91,292.32 Z" fill="#fff" stroke="#fffaf5" stroke-width="2.2" stroke-linejoin="round"/><path d="M102.9,293.2 L69.37,289.82 A33.7,33.7 0 0 1 70.48,284.00 Z" fill="#fff" stroke="#fffaf5" stroke-width="2.2" stroke-linejoin="round"/><path d="M102.9,293.2 L72.58,282.07 A32.3,32.3 0 0 1 75.00,276.93 Z" fill="#fff" stroke="#fffaf5" stroke-width="2.2" stroke-linejoin="round"/><path d="M102.9,293.2 L77.45,275.67 A30.9,30.9 0 0 1 80.91,271.49 Z" fill="#fff" stroke="#fffaf5" stroke-width="2.2" stroke-linejoin="round"/><path d="M102.9,293.2 L83.53,270.95 A29.5,29.5 0 0 1 87.72,267.90 Z" fill="#fff" stroke="#fffaf5" stroke-width="2.2" stroke-linejoin="round"/><path d="M102.9,293.2 L90.21,267.90 A28.3,28.3 0 0 1 94.83,266.07 Z" fill="#fff" stroke="#fffaf5" stroke-width="2.2" stroke-linejoin="round"/><path d="M102.9,293.2 L96.96,265.84 A28,28 0 0 1 101.84,265.22 Z" fill="#fff" stroke="#fffaf5" stroke-width="2.2" stroke-linejoin="round"/><path d="M102.9,293.2 L105.77,217.15 A76.1,76.1 0 0 1 119.03,218.83 Z" fill="#f52a10" stroke="#2e2e2e" stroke-width="0.7" stroke-linejoin="round"/><path d="M102.9,293.2 L119.43,237.61 A58,58 0 0 1 128.91,241.36 Z" fill="#ef4010" stroke="#2e2e2e" stroke-width="0.7" stroke-linejoin="round"/><path d="M102.9,293.2 L130.94,246.46 A54.5,54.5 0 0 1 138.68,252.09 Z" fill="#ee5a0e" stroke="#2e2e2e" stroke-width="0.7" stroke-linejoin="round"/><path d="M102.9,293.2 L139.62,256.94 A51.6,51.6 0 0 1 145.39,263.93 Z" fill="#ec700e" stroke="#2e2e2e" stroke-width="0.7" stroke-linejoin="round"/><path d="M102.9,293.2 L147.22,267.36 A51.3,51.3 0 0 1 151.06,275.52 Z" fill="#ea8a10" stroke="#2e2e2e" stroke-width="0.7" stroke-linejoin="round"/><path d="M102.9,293.2 L152.64,279.09 A51.7,51.7 0 0 1 154.34,288.01 Z" fill="#e6a010" stroke="#2e2e2e" stroke-width="0.7" stroke-linejoin="round"/><path d="M102.9,293.2 L150.48,292.00 A47.6,47.6 0 0 1 149.96,300.35 Z" fill="#e3b012" stroke="#2e2e2e" stroke-width="0.7" stroke-linejoin="round"/><path d="M102.9,293.2 L148.12,303.61 A46.4,46.4 0 0 1 145.60,311.36 Z" fill="#e5b814" stroke="#2e2e2e" stroke-width="0.7" stroke-linejoin="round"/><path d="M102.9,293.2 L143.84,314.39 A46.1,46.1 0 0 1 139.50,321.23 Z" fill="#ebc01c" stroke="#2e2e2e" stroke-width="0.7" stroke-linejoin="round"/><path d="M102.9,293.2 L136.02,322.77 A44.4,44.4 0 0 1 130.33,328.11 Z" fill="#ecc01c" stroke="#2e2e2e" stroke-width="0.7" stroke-linejoin="round"/><path d="M102.9,293.2 L126.57,328.50 A42.5,42.5 0 0 1 120.02,332.10 Z" fill="#ecc11b" stroke="#2e2e2e" stroke-width="0.7" stroke-linejoin="round"/><path d="M102.9,293.2 L116.55,331.86 A41,41 0 0 1 109.57,333.65 Z" fill="#edc21a" stroke="#2e2e2e" stroke-width="0.7" stroke-linejoin="round"/><path d="M102.9,293.2 L106.36,332.45 A39.4,39.4 0 0 1 99.44,332.45 Z" fill="#eec21a" stroke="#2e2e2e" stroke-width="0.7" stroke-linejoin="round"/><path d="M102.9,293.2 L96.44,332.37 A39.7,39.7 0 0 1 89.69,330.64 Z" fill="#d9c138" stroke="#2e2e2e" stroke-width="0.7" stroke-linejoin="round"/><path d="M102.9,293.2 L87.59,327.98 A38,38 0 0 1 81.74,324.76 Z" fill="#c9c24e" stroke="#2e2e2e" stroke-width="0.7" stroke-linejoin="round"/><path d="M102.9,293.2 L80.35,321.90 A36.5,36.5 0 0 1 75.67,317.51 Z" fill="#b4be68" stroke="#2e2e2e" stroke-width="0.7" stroke-linejoin="round"/><path d="M102.9,293.2 L73.76,315.51 A36.7,36.7 0 0 1 70.31,310.07 Z" fill="#9cbc8a" stroke="#2e2e2e" stroke-width="0.7" stroke-linejoin="round"/><path d="M102.9,293.2 L70.51,306.98 A35.2,35.2 0 0 1 68.60,301.09 Z" fill="#84baa8" stroke="#2e2e2e" stroke-width="0.7" stroke-linejoin="round"/><path d="M102.9,293.2 L68.30,298.46 A35,35 0 0 1 67.91,292.32 Z" fill="#6cb6c6" stroke="#2e2e2e" stroke-width="0.7" stroke-linejoin="round"/><path d="M102.9,293.2 L69.37,289.82 A33.7,33.7 0 0 1 70.48,284.00 Z" fill="#5db0cc" stroke="#2e2e2e" stroke-width="0.7" stroke-linejoin="round"/><path d="M102.9,293.2 L72.58,282.07 A32.3,32.3 0 0 1 75.00,276.93 Z" fill="#58adcb" stroke="#2e2e2e" stroke-width="0.7" stroke-linejoin="round"/><path d="M102.9,293.2 L77.45,275.67 A30.9,30.9 0 0 1 80.91,271.49 Z" fill="#54aac9" stroke="#2e2e2e" stroke-width="0.7" stroke-linejoin="round"/><path d="M102.9,293.2 L83.53,270.95 A29.5,29.5 0 0 1 87.72,267.90 Z" fill="#4fa6c6" stroke="#2e2e2e" stroke-width="0.7" stroke-linejoin="round"/><path d="M102.9,293.2 L90.21,267.90 A28.3,28.3 0 0 1 94.83,266.07 Z" fill="#4aa2c4" stroke="#2e2e2e" stroke-width="0.7" stroke-linejoin="round"/><path d="M102.9,293.2 L96.96,265.84 A28,28 0 0 1 101.84,265.22 Z" fill="#469fc2" stroke="#2e2e2e" stroke-width="0.7" stroke-linejoin="round"/><circle cx="102.9" cy="293.2" r="7.5" fill="url(#cg)"/><circle cx="102.9" cy="293.2" r="3.2" fill="#050505"/><text transform="translate(114.60,209.79) scale(0.92,1)" text-anchor="middle" font-size="6.0" fill="#F02418" stroke="#F02418" stroke-width="0.22" font-family="Liberation Sans, sans-serif" font-weight="bold">COMP</text><text transform="translate(135.73,215.21) scale(0.92,1)" text-anchor="middle" font-size="6.0" fill="#1c1c1c" stroke="#1c1c1c" stroke-width="0.22" font-family="Liberation Sans, sans-serif" font-weight="bold">AEBP1</text><text transform="translate(154.84,225.72) scale(0.92,1)" text-anchor="middle" font-size="6.0" fill="#1c1c1c" stroke="#1c1c1c" stroke-width="0.22" font-family="Liberation Sans, sans-serif" font-weight="bold">TGFB3</text><text transform="translate(170.73,240.64) scale(0.92,1)" text-anchor="middle" font-size="6.0" fill="#1c1c1c" stroke="#1c1c1c" stroke-width="0.22" font-family="Liberation Sans, sans-serif" font-weight="bold">SPOCK1</text><text transform="translate(182.42,259.06) scale(0.92,1)" text-anchor="middle" font-size="6.0" fill="#1c1c1c" stroke="#1c1c1c" stroke-width="0.22" font-family="Liberation Sans, sans-serif" font-weight="bold">BGN</text><text transform="translate(189.16,279.80) scale(0.92,1)" text-anchor="middle" font-size="6.0" fill="#1c1c1c" stroke="#1c1c1c" stroke-width="0.22" font-family="Liberation Sans, sans-serif" font-weight="bold">SSC5D</text><text transform="translate(190.53,301.56) scale(0.92,1)" text-anchor="middle" font-size="6.0" fill="#1c1c1c" stroke="#1c1c1c" stroke-width="0.22" font-family="Liberation Sans, sans-serif" font-weight="bold">CCDC80</text><text transform="translate(186.44,322.98) scale(0.92,1)" text-anchor="middle" font-size="6.0" fill="#1c1c1c" stroke="#1c1c1c" stroke-width="0.22" font-family="Liberation Sans, sans-serif" font-weight="bold">SFRP4</text><text transform="translate(177.16,342.72) scale(0.92,1)" text-anchor="middle" font-size="6.0" fill="#1c1c1c" stroke="#1c1c1c" stroke-width="0.22" font-family="Liberation Sans, sans-serif" font-weight="bold">MXRA8</text><text transform="translate(163.26,359.52) scale(0.92,1)" text-anchor="middle" font-size="6.0" fill="#1c1c1c" stroke="#1c1c1c" stroke-width="0.22" font-family="Liberation Sans, sans-serif" font-weight="bold">GAS1</text><text transform="translate(145.61,372.34) scale(0.92,1)" text-anchor="middle" font-size="6.0" fill="#1c1c1c" stroke="#1c1c1c" stroke-width="0.22" font-family="Liberation Sans, sans-serif" font-weight="bold">FNDC1</text><text transform="translate(125.34,380.37) scale(0.92,1)" text-anchor="middle" font-size="6.0" fill="#1c1c1c" stroke="#1c1c1c" stroke-width="0.22" font-family="Liberation Sans, sans-serif" font-weight="bold">EFEMP2</text><text transform="translate(103.70,383.10) scale(0.92,1)" text-anchor="middle" font-size="6.0" fill="#1c1c1c" stroke="#1c1c1c" stroke-width="0.22" font-family="Liberation Sans, sans-serif" font-weight="bold">ISLR</text><text transform="translate(82.06,380.37) scale(0.92,1)" text-anchor="middle" font-size="6.0" fill="#1c1c1c" stroke="#1c1c1c" stroke-width="0.22" font-family="Liberation Sans, sans-serif" font-weight="bold">THBS2</text><text transform="translate(61.79,372.34) scale(0.92,1)" text-anchor="middle" font-size="6.0" fill="#1c1c1c" stroke="#1c1c1c" stroke-width="0.22" font-family="Liberation Sans, sans-serif" font-weight="bold">SFRP2</text><text transform="translate(44.14,359.52) scale(0.92,1)" text-anchor="middle" font-size="6.0" fill="#1c1c1c" stroke="#1c1c1c" stroke-width="0.22" font-family="Liberation Sans, sans-serif" font-weight="bold">COL8A2</text><text transform="translate(30.24,342.72) scale(0.92,1)" text-anchor="middle" font-size="6.0" fill="#1c1c1c" stroke="#1c1c1c" stroke-width="0.22" font-family="Liberation Sans, sans-serif" font-weight="bold">GFPT2</text><text transform="translate(20.96,322.98) scale(0.92,1)" text-anchor="middle" font-size="6.0" fill="#1c1c1c" stroke="#1c1c1c" stroke-width="0.22" font-family="Liberation Sans, sans-serif" font-weight="bold">P4HA3</text><text transform="translate(16.87,301.56) scale(0.92,1)" text-anchor="middle" font-size="6.0" fill="#1c1c1c" stroke="#1c1c1c" stroke-width="0.22" font-family="Liberation Sans, sans-serif" font-weight="bold">CCDC8</text><text transform="translate(18.24,279.80) scale(0.92,1)" text-anchor="middle" font-size="6.0" fill="#1c1c1c" stroke="#1c1c1c" stroke-width="0.22" font-family="Liberation Sans, sans-serif" font-weight="bold">SCARF2</text><text transform="translate(24.98,259.06) scale(0.92,1)" text-anchor="middle" font-size="6.0" fill="#1c1c1c" stroke="#1c1c1c" stroke-width="0.22" font-family="Liberation Sans, sans-serif" font-weight="bold">COL6A2</text><text transform="translate(36.67,240.64) scale(0.92,1)" text-anchor="middle" font-size="6.0" fill="#1c1c1c" stroke="#1c1c1c" stroke-width="0.22" font-family="Liberation Sans, sans-serif" font-weight="bold">ITGBL1</text><text transform="translate(52.56,225.72) scale(0.92,1)" text-anchor="middle" font-size="6.0" fill="#1c1c1c" stroke="#1c1c1c" stroke-width="0.22" font-family="Liberation Sans, sans-serif" font-weight="bold">KCNE4</text><text transform="translate(71.67,215.21) scale(0.92,1)" text-anchor="middle" font-size="6.0" fill="#1c1c1c" stroke="#1c1c1c" stroke-width="0.22" font-family="Liberation Sans, sans-serif" font-weight="bold">COX7A1</text><text transform="translate(92.80,209.79) scale(0.92,1)" text-anchor="middle" font-size="6.0" fill="#1c1c1c" stroke="#1c1c1c" stroke-width="0.22" font-family="Liberation Sans, sans-serif" font-weight="bold">MEIS3</text><circle cx="296.6" cy="295.2" r="25.5" fill="none" stroke="#ffffff" stroke-width="0.9" opacity="0.55"/><circle cx="296.6" cy="295.2" r="51" fill="none" stroke="#ffffff" stroke-width="0.9" opacity="0.55"/><circle cx="296.6" cy="295.2" r="76.5" fill="none" stroke="#ffffff" stroke-width="0.9" opacity="0.55"/><circle cx="296.6" cy="295.2" r="86.4" fill="none" stroke="#ffffff" stroke-width="0.9" opacity="0.55"/><line x1="296.6" y1="295.2" x2="307.38" y2="209.88" stroke="#ffffff" stroke-width="1.2" opacity="0.5"/><line x1="296.6" y1="295.2" x2="328.26" y2="215.24" stroke="#ffffff" stroke-width="1.2" opacity="0.5"/><line x1="296.6" y1="295.2" x2="347.15" y2="225.62" stroke="#ffffff" stroke-width="1.2" opacity="0.5"/><line x1="296.6" y1="295.2" x2="362.86" y2="240.38" stroke="#ffffff" stroke-width="1.2" opacity="0.5"/><line x1="296.6" y1="295.2" x2="374.42" y2="258.58" stroke="#ffffff" stroke-width="1.2" opacity="0.5"/><line x1="296.6" y1="295.2" x2="381.08" y2="279.09" stroke="#ffffff" stroke-width="1.2" opacity="0.5"/><line x1="296.6" y1="295.2" x2="382.43" y2="300.60" stroke="#ffffff" stroke-width="1.2" opacity="0.5"/><line x1="296.6" y1="295.2" x2="378.39" y2="321.78" stroke="#ffffff" stroke-width="1.2" opacity="0.5"/><line x1="296.6" y1="295.2" x2="369.21" y2="341.28" stroke="#ffffff" stroke-width="1.2" opacity="0.5"/><line x1="296.6" y1="295.2" x2="355.47" y2="357.89" stroke="#ffffff" stroke-width="1.2" opacity="0.5"/><line x1="296.6" y1="295.2" x2="338.03" y2="370.56" stroke="#ffffff" stroke-width="1.2" opacity="0.5"/><line x1="296.6" y1="295.2" x2="317.99" y2="378.50" stroke="#ffffff" stroke-width="1.2" opacity="0.5"/><line x1="296.6" y1="295.2" x2="296.60" y2="381.20" stroke="#ffffff" stroke-width="1.2" opacity="0.5"/><line x1="296.6" y1="295.2" x2="275.21" y2="378.50" stroke="#ffffff" stroke-width="1.2" opacity="0.5"/><line x1="296.6" y1="295.2" x2="255.17" y2="370.56" stroke="#ffffff" stroke-width="1.2" opacity="0.5"/><line x1="296.6" y1="295.2" x2="237.73" y2="357.89" stroke="#ffffff" stroke-width="1.2" opacity="0.5"/><line x1="296.6" y1="295.2" x2="223.99" y2="341.28" stroke="#ffffff" stroke-width="1.2" opacity="0.5"/><line x1="296.6" y1="295.2" x2="214.81" y2="321.78" stroke="#ffffff" stroke-width="1.2" opacity="0.5"/><line x1="296.6" y1="295.2" x2="210.77" y2="300.60" stroke="#ffffff" stroke-width="1.2" opacity="0.5"/><line x1="296.6" y1="295.2" x2="212.12" y2="279.09" stroke="#ffffff" stroke-width="1.2" opacity="0.5"/><line x1="296.6" y1="295.2" x2="218.78" y2="258.58" stroke="#ffffff" stroke-width="1.2" opacity="0.5"/><line x1="296.6" y1="295.2" x2="230.34" y2="240.38" stroke="#ffffff" stroke-width="1.2" opacity="0.5"/><line x1="296.6" y1="295.2" x2="246.05" y2="225.62" stroke="#ffffff" stroke-width="1.2" opacity="0.5"/><line x1="296.6" y1="295.2" x2="264.94" y2="215.24" stroke="#ffffff" stroke-width="1.2" opacity="0.5"/><line x1="296.6" y1="295.2" x2="285.82" y2="209.88" stroke="#ffffff" stroke-width="1.2" opacity="0.5"/><path d="M296.6,295.2 L299.46,219.25 A76,76 0 0 1 312.71,220.93 Z" fill="#fff" stroke="#fffaf5" stroke-width="2.2" stroke-linejoin="round"/><path d="M296.6,295.2 L316.98,226.67 A71.5,71.5 0 0 1 328.66,231.29 Z" fill="#fff" stroke="#fffaf5" stroke-width="2.2" stroke-linejoin="round"/><path d="M296.6,295.2 L333.13,234.32 A71,71 0 0 1 343.22,241.65 Z" fill="#fff" stroke="#fffaf5" stroke-width="2.2" stroke-linejoin="round"/><path d="M296.6,295.2 L346.76,245.66 A70.5,70.5 0 0 1 354.66,255.21 Z" fill="#fff" stroke="#fffaf5" stroke-width="2.2" stroke-linejoin="round"/><path d="M296.6,295.2 L357.51,259.69 A70.5,70.5 0 0 1 362.78,270.90 Z" fill="#fff" stroke="#fffaf5" stroke-width="2.2" stroke-linejoin="round"/><path d="M296.6,295.2 L364.90,275.82 A71,71 0 0 1 367.24,288.07 Z" fill="#fff" stroke="#fffaf5" stroke-width="2.2" stroke-linejoin="round"/><path d="M296.6,295.2 L367.58,293.42 A71,71 0 0 1 366.79,305.87 Z" fill="#fff" stroke="#fffaf5" stroke-width="2.2" stroke-linejoin="round"/><path d="M296.6,295.2 L365.30,311.01 A70.5,70.5 0 0 1 361.48,322.79 Z" fill="#fff" stroke="#fffaf5" stroke-width="2.2" stroke-linejoin="round"/><path d="M296.6,295.2 L355.22,325.53 A66,66 0 0 1 349.00,335.32 Z" fill="#fff" stroke="#fffaf5" stroke-width="2.2" stroke-linejoin="round"/><path d="M296.6,295.2 L345.09,338.49 A65,65 0 0 1 336.76,346.31 Z" fill="#fff" stroke="#fffaf5" stroke-width="2.2" stroke-linejoin="round"/><path d="M296.6,295.2 L331.40,347.11 A62.5,62.5 0 0 1 321.78,352.40 Z" fill="#fff" stroke="#fffaf5" stroke-width="2.2" stroke-linejoin="round"/><path d="M296.6,295.2 L316.90,352.72 A61,61 0 0 1 306.52,355.39 Z" fill="#fff" stroke="#fffaf5" stroke-width="2.2" stroke-linejoin="round"/><path d="M296.6,295.2 L301.91,355.37 A60.4,60.4 0 0 1 291.29,355.37 Z" fill="#fff" stroke="#fffaf5" stroke-width="2.2" stroke-linejoin="round"/><path d="M296.6,295.2 L287.00,353.41 A59,59 0 0 1 276.96,350.84 Z" fill="#fff" stroke="#fffaf5" stroke-width="2.2" stroke-linejoin="round"/><path d="M296.6,295.2 L273.23,348.28 A58,58 0 0 1 264.30,343.37 Z" fill="#fff" stroke="#fffaf5" stroke-width="2.2" stroke-linejoin="round"/><path d="M296.6,295.2 L261.38,340.02 A57,57 0 0 1 254.08,333.16 Z" fill="#fff" stroke="#fffaf5" stroke-width="2.2" stroke-linejoin="round"/><path d="M296.6,295.2 L252.14,329.24 A56,56 0 0 1 246.86,320.94 Z" fill="#fff" stroke="#fffaf5" stroke-width="2.2" stroke-linejoin="round"/><path d="M296.6,295.2 L245.99,316.73 A55,55 0 0 1 243.00,307.53 Z" fill="#fff" stroke="#fffaf5" stroke-width="2.2" stroke-linejoin="round"/><path d="M296.6,295.2 L242.22,303.46 A55,55 0 0 1 241.62,293.82 Z" fill="#fff" stroke="#fffaf5" stroke-width="2.2" stroke-linejoin="round"/><path d="M296.6,295.2 L242.87,289.78 A54,54 0 0 1 244.65,280.46 Z" fill="#fff" stroke="#fffaf5" stroke-width="2.2" stroke-linejoin="round"/><path d="M296.6,295.2 L246.85,276.93 A53,53 0 0 1 250.81,268.51 Z" fill="#fff" stroke="#fffaf5" stroke-width="2.2" stroke-linejoin="round"/><path d="M296.6,295.2 L253.36,265.42 A52.5,52.5 0 0 1 259.24,258.31 Z" fill="#fff" stroke="#fffaf5" stroke-width="2.2" stroke-linejoin="round"/><path d="M296.6,295.2 L262.13,255.60 A52.5,52.5 0 0 1 269.59,250.18 Z" fill="#fff" stroke="#fffaf5" stroke-width="2.2" stroke-linejoin="round"/><path d="M296.6,295.2 L273.06,248.27 A52.5,52.5 0 0 1 281.64,244.88 Z" fill="#fff" stroke="#fffaf5" stroke-width="2.2" stroke-linejoin="round"/><path d="M296.6,295.2 L285.47,243.89 A52.5,52.5 0 0 1 294.62,242.74 Z" fill="#fff" stroke="#fffaf5" stroke-width="2.2" stroke-linejoin="round"/><path d="M296.6,295.2 L299.46,219.25 A76,76 0 0 1 312.71,220.93 Z" fill="#f52a10" stroke="#2e2e2e" stroke-width="0.7" stroke-linejoin="round"/><path d="M296.6,295.2 L316.98,226.67 A71.5,71.5 0 0 1 328.66,231.29 Z" fill="#ef4010" stroke="#2e2e2e" stroke-width="0.7" stroke-linejoin="round"/><path d="M296.6,295.2 L333.13,234.32 A71,71 0 0 1 343.22,241.65 Z" fill="#ee5a0e" stroke="#2e2e2e" stroke-width="0.7" stroke-linejoin="round"/><path d="M296.6,295.2 L346.76,245.66 A70.5,70.5 0 0 1 354.66,255.21 Z" fill="#ec700e" stroke="#2e2e2e" stroke-width="0.7" stroke-linejoin="round"/><path d="M296.6,295.2 L357.51,259.69 A70.5,70.5 0 0 1 362.78,270.90 Z" fill="#ea8a10" stroke="#2e2e2e" stroke-width="0.7" stroke-linejoin="round"/><path d="M296.6,295.2 L364.90,275.82 A71,71 0 0 1 367.24,288.07 Z" fill="#e6a010" stroke="#2e2e2e" stroke-width="0.7" stroke-linejoin="round"/><path d="M296.6,295.2 L367.58,293.42 A71,71 0 0 1 366.79,305.87 Z" fill="#e3b012" stroke="#2e2e2e" stroke-width="0.7" stroke-linejoin="round"/><path d="M296.6,295.2 L365.30,311.01 A70.5,70.5 0 0 1 361.48,322.79 Z" fill="#e5b814" stroke="#2e2e2e" stroke-width="0.7" stroke-linejoin="round"/><path d="M296.6,295.2 L355.22,325.53 A66,66 0 0 1 349.00,335.32 Z" fill="#ebc01c" stroke="#2e2e2e" stroke-width="0.7" stroke-linejoin="round"/><path d="M296.6,295.2 L345.09,338.49 A65,65 0 0 1 336.76,346.31 Z" fill="#ecc01c" stroke="#2e2e2e" stroke-width="0.7" stroke-linejoin="round"/><path d="M296.6,295.2 L331.40,347.11 A62.5,62.5 0 0 1 321.78,352.40 Z" fill="#ecc11b" stroke="#2e2e2e" stroke-width="0.7" stroke-linejoin="round"/><path d="M296.6,295.2 L316.90,352.72 A61,61 0 0 1 306.52,355.39 Z" fill="#edc21a" stroke="#2e2e2e" stroke-width="0.7" stroke-linejoin="round"/><path d="M296.6,295.2 L301.91,355.37 A60.4,60.4 0 0 1 291.29,355.37 Z" fill="#eec21a" stroke="#2e2e2e" stroke-width="0.7" stroke-linejoin="round"/><path d="M296.6,295.2 L287.00,353.41 A59,59 0 0 1 276.96,350.84 Z" fill="#d9c138" stroke="#2e2e2e" stroke-width="0.7" stroke-linejoin="round"/><path d="M296.6,295.2 L273.23,348.28 A58,58 0 0 1 264.30,343.37 Z" fill="#c9c24e" stroke="#2e2e2e" stroke-width="0.7" stroke-linejoin="round"/><path d="M296.6,295.2 L261.38,340.02 A57,57 0 0 1 254.08,333.16 Z" fill="#b4be68" stroke="#2e2e2e" stroke-width="0.7" stroke-linejoin="round"/><path d="M296.6,295.2 L252.14,329.24 A56,56 0 0 1 246.86,320.94 Z" fill="#9cbc8a" stroke="#2e2e2e" stroke-width="0.7" stroke-linejoin="round"/><path d="M296.6,295.2 L245.99,316.73 A55,55 0 0 1 243.00,307.53 Z" fill="#84baa8" stroke="#2e2e2e" stroke-width="0.7" stroke-linejoin="round"/><path d="M296.6,295.2 L242.22,303.46 A55,55 0 0 1 241.62,293.82 Z" fill="#6cb6c6" stroke="#2e2e2e" stroke-width="0.7" stroke-linejoin="round"/><path d="M296.6,295.2 L242.87,289.78 A54,54 0 0 1 244.65,280.46 Z" fill="#5db0cc" stroke="#2e2e2e" stroke-width="0.7" stroke-linejoin="round"/><path d="M296.6,295.2 L246.85,276.93 A53,53 0 0 1 250.81,268.51 Z" fill="#58adcb" stroke="#2e2e2e" stroke-width="0.7" stroke-linejoin="round"/><path d="M296.6,295.2 L253.36,265.42 A52.5,52.5 0 0 1 259.24,258.31 Z" fill="#54aac9" stroke="#2e2e2e" stroke-width="0.7" stroke-linejoin="round"/><path d="M296.6,295.2 L262.13,255.60 A52.5,52.5 0 0 1 269.59,250.18 Z" fill="#4fa6c6" stroke="#2e2e2e" stroke-width="0.7" stroke-linejoin="round"/><path d="M296.6,295.2 L273.06,248.27 A52.5,52.5 0 0 1 281.64,244.88 Z" fill="#4aa2c4" stroke="#2e2e2e" stroke-width="0.7" stroke-linejoin="round"/><path d="M296.6,295.2 L285.47,243.89 A52.5,52.5 0 0 1 294.62,242.74 Z" fill="#469fc2" stroke="#2e2e2e" stroke-width="0.7" stroke-linejoin="round"/><circle cx="296.6" cy="295.2" r="7.5" fill="url(#cg)"/><circle cx="296.6" cy="295.2" r="3.2" fill="#050505"/><text transform="translate(308.30,211.79) scale(0.92,1)" text-anchor="middle" font-size="6.0" fill="#F02418" stroke="#F02418" stroke-width="0.22" font-family="Liberation Sans, sans-serif" font-weight="bold">COMP</text><text transform="translate(329.43,217.21) scale(0.92,1)" text-anchor="middle" font-size="6.0" fill="#1c1c1c" stroke="#1c1c1c" stroke-width="0.22" font-family="Liberation Sans, sans-serif" font-weight="bold">TGFB3</text><text transform="translate(348.54,227.72) scale(0.92,1)" text-anchor="middle" font-size="6.0" fill="#1c1c1c" stroke="#1c1c1c" stroke-width="0.22" font-family="Liberation Sans, sans-serif" font-weight="bold">GAS1</text><text transform="translate(364.43,242.64) scale(0.92,1)" text-anchor="middle" font-size="6.0" fill="#1c1c1c" stroke="#1c1c1c" stroke-width="0.22" font-family="Liberation Sans, sans-serif" font-weight="bold">SSC5D</text><text transform="translate(376.12,261.06) scale(0.92,1)" text-anchor="middle" font-size="6.0" fill="#1c1c1c" stroke="#1c1c1c" stroke-width="0.22" font-family="Liberation Sans, sans-serif" font-weight="bold">GPSM1</text><text transform="translate(382.86,281.80) scale(0.92,1)" text-anchor="middle" font-size="6.0" fill="#1c1c1c" stroke="#1c1c1c" stroke-width="0.22" font-family="Liberation Sans, sans-serif" font-weight="bold">FSTL3</text><text transform="translate(384.23,303.56) scale(0.92,1)" text-anchor="middle" font-size="6.0" fill="#1c1c1c" stroke="#1c1c1c" stroke-width="0.22" font-family="Liberation Sans, sans-serif" font-weight="bold">PDLIM4</text><text transform="translate(380.14,324.98) scale(0.92,1)" text-anchor="middle" font-size="6.0" fill="#1c1c1c" stroke="#1c1c1c" stroke-width="0.22" font-family="Liberation Sans, sans-serif" font-weight="bold">COX7A1</text><text transform="translate(370.86,344.72) scale(0.92,1)" text-anchor="middle" font-size="6.0" fill="#1c1c1c" stroke="#1c1c1c" stroke-width="0.22" font-family="Liberation Sans, sans-serif" font-weight="bold">PHLDA3</text><text transform="translate(356.96,361.52) scale(0.92,1)" text-anchor="middle" font-size="6.0" fill="#1c1c1c" stroke="#1c1c1c" stroke-width="0.22" font-family="Liberation Sans, sans-serif" font-weight="bold">SFRP2</text><text transform="translate(339.31,374.34) scale(0.92,1)" text-anchor="middle" font-size="6.0" fill="#1c1c1c" stroke="#1c1c1c" stroke-width="0.22" font-family="Liberation Sans, sans-serif" font-weight="bold">FN1</text><text transform="translate(319.04,382.37) scale(0.92,1)" text-anchor="middle" font-size="6.0" fill="#1c1c1c" stroke="#1c1c1c" stroke-width="0.22" font-family="Liberation Sans, sans-serif" font-weight="bold">RAB3IL1</text><text transform="translate(297.40,385.10) scale(0.92,1)" text-anchor="middle" font-size="6.0" fill="#1c1c1c" stroke="#1c1c1c" stroke-width="0.22" font-family="Liberation Sans, sans-serif" font-weight="bold">DEPP1</text><text transform="translate(275.76,382.37) scale(0.92,1)" text-anchor="middle" font-size="6.0" fill="#1c1c1c" stroke="#1c1c1c" stroke-width="0.22" font-family="Liberation Sans, sans-serif" font-weight="bold">C3</text><text transform="translate(255.49,374.34) scale(0.92,1)" text-anchor="middle" font-size="6.0" fill="#1c1c1c" stroke="#1c1c1c" stroke-width="0.22" font-family="Liberation Sans, sans-serif" font-weight="bold">MEDAG</text><text transform="translate(237.84,361.52) scale(0.92,1)" text-anchor="middle" font-size="6.0" fill="#1c1c1c" stroke="#1c1c1c" stroke-width="0.22" font-family="Liberation Sans, sans-serif" font-weight="bold">WNT5A</text><text transform="translate(223.94,344.72) scale(0.92,1)" text-anchor="middle" font-size="6.0" fill="#1c1c1c" stroke="#1c1c1c" stroke-width="0.22" font-family="Liberation Sans, sans-serif" font-weight="bold">ITGBL1</text><text transform="translate(214.66,324.98) scale(0.92,1)" text-anchor="middle" font-size="6.0" fill="#1c1c1c" stroke="#1c1c1c" stroke-width="0.22" font-family="Liberation Sans, sans-serif" font-weight="bold">TMEM204</text><text transform="translate(210.57,303.56) scale(0.92,1)" text-anchor="middle" font-size="6.0" fill="#1c1c1c" stroke="#1c1c1c" stroke-width="0.22" font-family="Liberation Sans, sans-serif" font-weight="bold">SHISA4</text><text transform="translate(211.94,281.80) scale(0.92,1)" text-anchor="middle" font-size="6.0" fill="#1c1c1c" stroke="#1c1c1c" stroke-width="0.22" font-family="Liberation Sans, sans-serif" font-weight="bold">SPOCK1</text><text transform="translate(218.68,261.06) scale(0.92,1)" text-anchor="middle" font-size="6.0" fill="#1c1c1c" stroke="#1c1c1c" stroke-width="0.22" font-family="Liberation Sans, sans-serif" font-weight="bold">RCN3</text><text transform="translate(230.37,242.64) scale(0.92,1)" text-anchor="middle" font-size="6.0" fill="#1c1c1c" stroke="#1c1c1c" stroke-width="0.22" font-family="Liberation Sans, sans-serif" font-weight="bold">AEBP1</text><text transform="translate(246.26,227.72) scale(0.92,1)" text-anchor="middle" font-size="6.0" fill="#1c1c1c" stroke="#1c1c1c" stroke-width="0.22" font-family="Liberation Sans, sans-serif" font-weight="bold">RAMP1</text><text transform="translate(265.37,217.21) scale(0.92,1)" text-anchor="middle" font-size="6.0" fill="#1c1c1c" stroke="#1c1c1c" stroke-width="0.22" font-family="Liberation Sans, sans-serif" font-weight="bold">LAMB2</text><text transform="translate(286.50,211.79) scale(0.92,1)" text-anchor="middle" font-size="6.0" fill="#1c1c1c" stroke="#1c1c1c" stroke-width="0.22" font-family="Liberation Sans, sans-serif" font-weight="bold">BGN</text><text x="17" y="193.8" font-family="Liberation Serif, serif" font-size="11" fill="#111" stroke="#111" stroke-width="0.2">LASSO</text><text x="223.8" y="193" font-family="Liberation Sans, sans-serif" font-weight="bold" font-size="9.2" fill="#111" stroke="#111" stroke-width="0.2">XGBoost</text><text x="10" y="389.5" font-family="Liberation Serif, serif" font-size="11.3" fill="#111" stroke="#111" stroke-width="0.2">Random Forest</text><text x="227.3" y="388.1" font-family="Liberation Serif, serif" font-size="11.3" fill="#111" stroke="#111" stroke-width="0.3">Merge</text><text x="15.4" y="21.2" font-family="Liberation Serif, serif" font-weight="bold" font-size="10.5" fill="#111">A</text><text x="407.8" y="20.1" font-family="Liberation Serif, serif" font-weight="bold" font-size="10.4" fill="#111">B</text><rect x="426.7" y="26.1" width="109.8" height="96.3" fill="#FCECDD"/><line x1="426.7" x2="536.5" y1="37.7" y2="37.7" stroke="#fff" stroke-width="0.5" opacity="0.3"/><line x1="426.7" x2="536.5" y1="65.5" y2="65.5" stroke="#fff" stroke-width="0.5" opacity="0.3"/><line x1="426.7" x2="536.5" y1="94.0" y2="94.0" stroke="#fff" stroke-width="0.5" opacity="0.3"/><line x1="426.7" x2="536.5" y1="51.8" y2="51.8" stroke="#fff" stroke-width="0.8" opacity="0.35"/><line x1="426.7" x2="536.5" y1="80.0" y2="80.0" stroke="#fff" stroke-width="0.8" opacity="0.35"/><line x1="426.7" x2="536.5" y1="108.3" y2="108.3" stroke="#fff" stroke-width="0.8" opacity="0.35"/><line x1="456.7" x2="456.7" y1="26.1" y2="122.4" stroke="#fff" stroke-width="0.8" opacity="0.35"/><line x1="506.4" x2="506.4" y1="26.1" y2="122.4" stroke="#fff" stroke-width="0.8" opacity="0.35"/><path d="M456.70,30.20 L457.50,36.00 L458.40,42.70 L459.70,48.00 L461.80,54.00 L464.00,58.50 L466.60,63.20 L469.00,68.00 L470.90,72.30 L471.90,77.00 L471.70,80.00 L470.20,83.00 L468.10,85.00 L465.70,90.00 L463.50,94.00 L461.30,99.00 L459.70,103.20 L458.70,108.00 L457.90,113.00 L456.70,118.50 L456.70,118.50 L455.50,113.00 L454.70,108.00 L453.70,103.20 L452.10,99.00 L449.90,94.00 L447.70,90.00 L445.30,85.00 L443.20,83.00 L441.70,80.00 L441.50,77.00 L442.50,72.30 L444.40,68.00 L446.80,63.20 L449.40,58.50 L451.60,54.00 L453.70,48.00 L455.00,42.70 L455.90,36.00 L456.70,30.20Z" fill="#F9594F" stroke="#F9594F" stroke-width="0.4" stroke-linejoin="round"/><path d="M506.40,56.40 L507.20,60.00 L507.90,64.50 L507.90,68.00 L508.40,70.90 L508.60,73.60 L509.00,76.00 L509.90,78.20 L511.40,80.50 L513.20,82.70 L515.90,85.50 L518.90,88.40 L521.40,91.00 L524.00,94.00 L526.40,97.00 L528.00,99.80 L528.60,102.00 L528.60,104.30 L526.90,106.50 L524.00,108.90 L519.90,110.50 L514.90,112.30 L510.90,114.00 L507.90,115.00 L506.40,115.80 L506.40,115.80 L504.90,115.00 L501.90,114.00 L497.90,112.30 L492.90,110.50 L488.80,108.90 L485.90,106.50 L484.20,104.30 L484.20,102.00 L484.80,99.80 L486.40,97.00 L488.80,94.00 L491.40,91.00 L493.90,88.40 L496.90,85.50 L499.60,82.70 L501.40,80.50 L502.90,78.20 L503.80,76.00 L504.20,73.60 L504.40,70.90 L504.90,68.00 L504.90,64.50 L505.60,60.00 L506.40,56.40Z" fill="#45B39A" stroke="#45B39A" stroke-width="0.4" stroke-linejoin="round"/><line x1="456.7" x2="456.7" y1="31" y2="118" stroke="#FF9A90" stroke-width="0.5"/><line x1="506.4" x2="506.4" y1="57" y2="116" stroke="#8ED6C4" stroke-width="0.5"/><circle cx="456.7" cy="41.6" r="1.8" fill="#E8201A"/><circle cx="456.7" cy="108.5" r="1.8" fill="#E8201A"/><circle cx="506.4" cy="64.5" r="1.7" fill="#2EA58A"/><circle cx="506.4" cy="70.9" r="1.7" fill="#2EA58A"/><circle cx="506.4" cy="72.3" r="1.7" fill="#2EA58A"/><rect x="454.6" y="67.5" width="4.4" height="15.9" fill="#fff"/><line x1="454.6" x2="459" y1="75.9" y2="75.9" stroke="#F9594F" stroke-width="0.6"/><rect x="504.2" y="91.8" width="4.4" height="12.5" fill="#fff"/><line x1="504.2" x2="508.6" y1="98.2" y2="98.2" stroke="#45B39A" stroke-width="0.6"/><rect x="426.7" y="26.1" width="109.8" height="96.3" fill="none" stroke="#a8a8a8" stroke-width="0.9"/><rect x="474" y="44.6" width="7.6" height="1.2" fill="#3a3a3a"/><text x="422.8" y="53.4" text-anchor="end" font-family="Liberation Sans, sans-serif" font-weight="bold" font-size="4.6" fill="#222">8</text><line x1="424.2" x2="426.7" y1="51.8" y2="51.8" stroke="#333" stroke-width="0.5"/><text x="422.8" y="81.6" text-anchor="end" font-family="Liberation Sans, sans-serif" font-weight="bold" font-size="4.6" fill="#222">4</text><line x1="424.2" x2="426.7" y1="80.0" y2="80.0" stroke="#333" stroke-width="0.5"/><text x="422.8" y="109.9" text-anchor="end" font-family="Liberation Sans, sans-serif" font-weight="bold" font-size="4.6" fill="#222">0</text><line x1="424.2" x2="426.7" y1="108.3" y2="108.3" stroke="#333" stroke-width="0.5"/><line x1="456.7" x2="456.7" y1="122.4" y2="124.6" stroke="#333" stroke-width="0.5"/><text transform="translate(458.7,128) rotate(-45)" text-anchor="end" font-family="Liberation Sans, sans-serif" font-weight="bold" font-size="5.6" fill="#222">C1</text><line x1="506.4" x2="506.4" y1="122.4" y2="124.6" stroke="#333" stroke-width="0.5"/><text transform="translate(508.4,128) rotate(-45)" text-anchor="end" font-family="Liberation Sans, sans-serif" font-weight="bold" font-size="5.6" fill="#222">C2</text><text transform="translate(415.3,77.4) rotate(-90)" text-anchor="middle" font-family="Liberation Serif, serif" font-size="8.1" fill="#111" stroke="#111" stroke-width="0.22">Expression level of COMP</text><text x="406.2" y="159" font-family="Liberation Serif, serif" font-weight="bold" font-size="10.6" fill="#111">C</text><rect x="435.2" y="151.1" width="108.8" height="95.6" fill="#FCECDD"/><line x1="435.2" x2="544.3" y1="242.5" y2="242.5" stroke="#fff" stroke-width="0.8" opacity="0.5"/><line x1="439.8" x2="439.8" y1="151.1" y2="247" stroke="#fff" stroke-width="0.8" opacity="0.5"/><line x1="435.2" x2="544.3" y1="220.75" y2="220.75" stroke="#fff" stroke-width="0.8" opacity="0.5"/><line x1="464.8" x2="464.8" y1="151.1" y2="247" stroke="#fff" stroke-width="0.8" opacity="0.5"/><line x1="435.2" x2="544.3" y1="199.0" y2="199.0" stroke="#fff" stroke-width="0.8" opacity="0.5"/><line x1="489.8" x2="489.8" y1="151.1" y2="247" stroke="#fff" stroke-width="0.8" opacity="0.5"/><line x1="435.2" x2="544.3" y1="177.25" y2="177.25" stroke="#fff" stroke-width="0.8" opacity="0.5"/><line x1="514.8" x2="514.8" y1="151.1" y2="247" stroke="#fff" stroke-width="0.8" opacity="0.5"/><line x1="435.2" x2="544.3" y1="155.5" y2="155.5" stroke="#fff" stroke-width="0.8" opacity="0.5"/><line x1="539.8" x2="539.8" y1="151.1" y2="247" stroke="#fff" stroke-width="0.8" opacity="0.5"/><line x1="435.2" x2="544.3" y1="231.625" y2="231.625" stroke="#fff" stroke-width="0.4" opacity="0.4"/><line x1="452.3" x2="452.3" y1="151.1" y2="247" stroke="#fff" stroke-width="0.4" opacity="0.4"/><line x1="435.2" x2="544.3" y1="209.875" y2="209.875" stroke="#fff" stroke-width="0.4" opacity="0.4"/><line x1="477.3" x2="477.3" y1="151.1" y2="247" stroke="#fff" stroke-width="0.4" opacity="0.4"/><line x1="435.2" x2="544.3" y1="188.125" y2="188.125" stroke="#fff" stroke-width="0.4" opacity="0.4"/><line x1="502.3" x2="502.3" y1="151.1" y2="247" stroke="#fff" stroke-width="0.4" opacity="0.4"/><line x1="435.2" x2="544.3" y1="166.375" y2="166.375" stroke="#fff" stroke-width="0.4" opacity="0.4"/><line x1="527.3" x2="527.3" y1="151.1" y2="247" stroke="#fff" stroke-width="0.4" opacity="0.4"/><line x1="444.3" y1="238.6" x2="539.8" y2="155.5" stroke="#B8A898" stroke-width="0.6" stroke-dasharray="4,2"/><polyline points="439.7,242.3 440,241.5 441.3,228.2 442.2,214.9 443,205.6 443.6,200.3 444.2,196 445.4,190.6 446.6,187.5 447.6,184.8 449.8,180.4 452,178.3 452.6,176 453.4,173.9 454.8,169.6 457.7,167.4 462.8,165.2 466.4,163.8 468.6,160.1 472.2,158.7 476.6,157.2 483.8,157 496,156.5 520,155.9 539.8,155.5" fill="none" stroke="#5A6AB4" stroke-width="0.95" stroke-linejoin="round"/><path d="M544,151.3 L435.2,151.3 L435.2,246.5 L544,246.5" fill="none" stroke="#b0aca8" stroke-width="0.9"/><text x="510.2" y="217" text-anchor="middle" font-family="Liberation Sans, sans-serif" font-size="5.2" fill="#4C5FAF">AUC=0.91</text><text x="430.8" y="244.5" text-anchor="end" font-family="Liberation Sans, sans-serif" font-weight="bold" font-size="4.7" fill="#222">0.00</text><line x1="432.2" x2="435.2" y1="242.5" y2="242.5" stroke="#333" stroke-width="0.5"/><text x="430.8" y="222.8" text-anchor="end" font-family="Liberation Sans, sans-serif" font-weight="bold" font-size="4.7" fill="#222">0.25</text><line x1="432.2" x2="435.2" y1="220.75" y2="220.75" stroke="#333" stroke-width="0.5"/><text x="430.8" y="201.0" text-anchor="end" font-family="Liberation Sans, sans-serif" font-weight="bold" font-size="4.7" fill="#222">0.50</text><line x1="432.2" x2="435.2" y1="199.0" y2="199.0" stroke="#333" stroke-width="0.5"/><text x="430.8" y="179.2" text-anchor="end" font-family="Liberation Sans, sans-serif" font-weight="bold" font-size="4.7" fill="#222">0.75</text><line x1="432.2" x2="435.2" y1="177.25" y2="177.25" stroke="#333" stroke-width="0.5"/><text x="430.8" y="157.5" text-anchor="end" font-family="Liberation Sans, sans-serif" font-weight="bold" font-size="4.7" fill="#222">1.00</text><line x1="432.2" x2="435.2" y1="155.5" y2="155.5" stroke="#333" stroke-width="0.5"/><line x1="439.8" x2="439.8" y1="247" y2="249.5" stroke="#333" stroke-width="0.5"/><text transform="translate(445.40000000000003,253.6) rotate(-30)" text-anchor="end" font-family="Liberation Sans, sans-serif" font-weight="bold" font-size="5.1" fill="#222">1.00</text><line x1="464.8" x2="464.8" y1="247" y2="249.5" stroke="#333" stroke-width="0.5"/><text transform="translate(470.40000000000003,253.6) rotate(-30)" text-anchor="end" font-family="Liberation Sans, sans-serif" font-weight="bold" font-size="5.1" fill="#222">0.75</text><line x1="489.8" x2="489.8" y1="247" y2="249.5" stroke="#333" stroke-width="0.5"/><text transform="translate(495.40000000000003,253.6) rotate(-30)" text-anchor="end" font-family="Liberation Sans, sans-serif" font-weight="bold" font-size="5.1" fill="#222">0.50</text><line x1="514.8" x2="514.8" y1="247" y2="249.5" stroke="#333" stroke-width="0.5"/><text transform="translate(520.4,253.6) rotate(-30)" text-anchor="end" font-family="Liberation Sans, sans-serif" font-weight="bold" font-size="5.1" fill="#222">0.25</text><line x1="539.8" x2="539.8" y1="247" y2="249.5" stroke="#333" stroke-width="0.5"/><text transform="translate(545.4,253.6) rotate(-30)" text-anchor="end" font-family="Liberation Sans, sans-serif" font-weight="bold" font-size="5.1" fill="#222">0.00</text><text x="490.2" y="266.6" text-anchor="middle" font-family="Liberation Serif, serif" font-size="11.6" fill="#111" stroke="#111" stroke-width="0.25">Specificity</text><text transform="translate(418.6,202.3) rotate(-90)" text-anchor="middle" font-family="Liberation Serif, serif" font-size="11.4" fill="#111" stroke="#111" stroke-width="0.25">Sensitivity</text><text x="407.8" y="282.3" font-family="Liberation Serif, serif" font-weight="bold" font-size="10.6" fill="#111">D</text><path d="M439.3,276.7 C457.15,276.7 457.15,276.7 475,276.7 L475,284.0 C457.15,284.0 457.15,284.0 439.3,284.0 Z" fill="#F08A80" fill-opacity="0.5"/><path d="M439.3,284.0 C457.15,284.0 457.15,346.4 475,346.4 L475,353.6 C457.15,353.6 457.15,291.2 439.3,291.2 Z" fill="#F08A80" fill-opacity="0.5"/><path d="M439.3,291.2 C457.15,291.2 457.15,284.0 475,284.0 L475,302.8 C457.15,302.8 457.15,310.0 439.3,310.0 Z" fill="#D69A1C" fill-opacity="0.5"/><path d="M439.3,310.0 C457.15,310.0 457.15,353.6 475,353.6 L475,376.1 C457.15,376.1 457.15,332.5 439.3,332.5 Z" fill="#D69A1C" fill-opacity="0.5"/><path d="M439.3,332.5 C457.15,332.5 457.15,302.8 475,302.8 L475,303.9 C457.15,303.9 457.15,333.6 439.3,333.6 Z" fill="#8DBA2A" fill-opacity="0.5"/><path d="M439.3,333.6 C457.15,333.6 457.15,376.1 475,376.1 L475,390.9 C457.15,390.9 457.15,348.4 439.3,348.4 Z" fill="#8DBA2A" fill-opacity="0.5"/><path d="M439.3,348.4 C457.15,348.4 457.15,303.9 475,303.9 L475,332.8 C457.15,332.8 457.15,377.3 439.3,377.3 Z" fill="#2DBA6A" fill-opacity="0.5"/><path d="M484.2,276.7 C502.29999999999995,276.7 502.29999999999995,276.7 520.4,276.7 L520.4,336.0 C502.29999999999995,336.0 502.29999999999995,336.0 484.2,336.0 Z" fill="#17B6BF" fill-opacity="0.52"/><path d="M484.2,336.0 C502.29999999999995,336.0 502.29999999999995,345.2 520.4,345.2 L520.4,355.6 C502.29999999999995,355.6 502.29999999999995,346.4 484.2,346.4 Z" fill="#17B6BF" fill-opacity="0.52"/><path d="M484.2,346.4 C502.29999999999995,346.4 502.29999999999995,336.0 520.4,336.0 L520.4,345.2 C502.29999999999995,345.2 502.29999999999995,355.6 484.2,355.6 Z" fill="#18A4EC" fill-opacity="0.52"/><path d="M484.2,355.6 C502.29999999999995,355.6 502.29999999999995,355.6 520.4,355.6 L520.4,402 C502.29999999999995,402 502.29999999999995,402 484.2,402 Z" fill="#18A4EC" fill-opacity="0.52"/><rect x="430" y="276.7" width="9.3" height="14.5" fill="#F08A80" stroke="#222" stroke-width="0.5"/><text transform="translate(436.1,283.9) rotate(-90)" text-anchor="middle" font-family="Liberation Sans, sans-serif" font-size="4.6" fill="#111">CMS1</text><rect x="430" y="291.2" width="9.3" height="41.3" fill="#D69A1C" stroke="#222" stroke-width="0.5"/><text transform="translate(436.1,311.9) rotate(-90)" text-anchor="middle" font-family="Liberation Sans, sans-serif" font-size="4.6" fill="#111">CMS2</text><rect x="430" y="332.5" width="9.3" height="15.9" fill="#8DBA2A" stroke="#222" stroke-width="0.5"/><text transform="translate(436.1,340.4) rotate(-90)" text-anchor="middle" font-family="Liberation Sans, sans-serif" font-size="4.6" fill="#111">CMS3</text><rect x="430" y="348.4" width="9.3" height="28.9" fill="#2DBA6A" stroke="#222" stroke-width="0.5"/><text transform="translate(436.1,362.9) rotate(-90)" text-anchor="middle" font-family="Liberation Sans, sans-serif" font-size="4.6" fill="#111">CMS4</text><rect x="430" y="377.3" width="9.3" height="24.7" fill="#7F7F7F" stroke="#222" stroke-width="0.5"/><rect x="475" y="276.7" width="9.2" height="69.7" fill="#17B6BF" stroke="#222" stroke-width="0.5"/><text transform="translate(481.1,311.5) rotate(-90)" text-anchor="middle" font-family="Liberation Sans, sans-serif" font-size="4.6" fill="#111">C1</text><rect x="475" y="346.4" width="9.2" height="55.6" fill="#18A4EC" stroke="#222" stroke-width="0.5"/><text transform="translate(481.1,374.2) rotate(-90)" text-anchor="middle" font-family="Liberation Sans, sans-serif" font-size="4.6" fill="#111">C2</text><rect x="520.4" y="276.7" width="8.8" height="68.5" fill="#C77CF0" stroke="#222" stroke-width="0.5"/><text transform="translate(526.3,310.9) rotate(-90)" text-anchor="middle" font-family="Liberation Sans, sans-serif" font-size="4.6" fill="#111">High</text><rect x="520.4" y="345.2" width="8.8" height="56.8" fill="#F55EC8" stroke="#222" stroke-width="0.5"/><text transform="translate(526.3,373.6) rotate(-90)" text-anchor="middle" font-family="Liberation Sans, sans-serif" font-size="4.6" fill="#111">Low</text><text x="434.7" y="406.8" text-anchor="middle" font-family="Liberation Sans, sans-serif" font-size="4.1" fill="#222">Colorectal CMS</text><text x="479.6" y="406.8" text-anchor="middle" font-family="Liberation Sans, sans-serif" font-size="4.1" fill="#222">TGFb_subtype</text><text x="524.8" y="406.8" text-anchor="middle" font-family="Liberation Sans, sans-serif" font-size="4.1" fill="#222">COMP</text></svg></body></html>
